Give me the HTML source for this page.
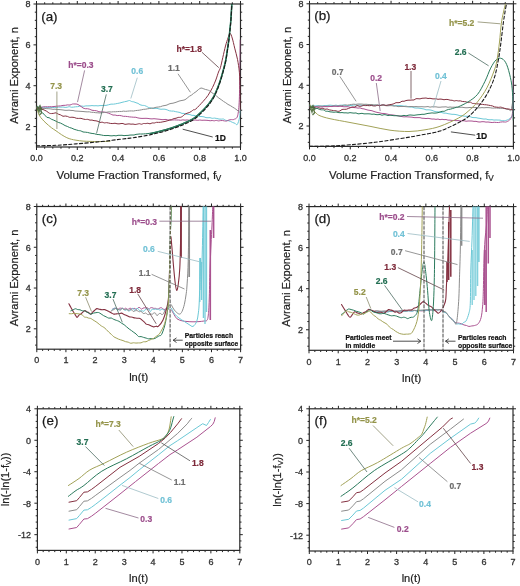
<!DOCTYPE html>
<html><head><meta charset="utf-8"><title>Avrami exponent figure</title>
<style>html,body{margin:0;padding:0;background:#fff;width:520px;height:586px;overflow:hidden}</style>
</head><body>
<svg width="520" height="586" viewBox="0 0 520 586" style="display:block;font-family:'Liberation Sans', Arial, Helvetica, sans-serif">
<rect width="520" height="586" fill="#fff"/>
<clipPath id="ca"><rect x="36.5" y="4" width="204" height="143"/></clipPath>
<path d="M36.5 147v3 M36.5 4v-3 M44.66 147v1.7 M44.66 4v-1.7 M52.82 147v1.7 M52.82 4v-1.7 M60.98 147v1.7 M60.98 4v-1.7 M69.14 147v1.7 M69.14 4v-1.7 M77.3 147v3 M77.3 4v-3 M85.46 147v1.7 M85.46 4v-1.7 M93.62 147v1.7 M93.62 4v-1.7 M101.78 147v1.7 M101.78 4v-1.7 M109.94 147v1.7 M109.94 4v-1.7 M118.1 147v3 M118.1 4v-3 M126.26 147v1.7 M126.26 4v-1.7 M134.42 147v1.7 M134.42 4v-1.7 M142.58 147v1.7 M142.58 4v-1.7 M150.74 147v1.7 M150.74 4v-1.7 M158.9 147v3 M158.9 4v-3 M167.06 147v1.7 M167.06 4v-1.7 M175.22 147v1.7 M175.22 4v-1.7 M183.38 147v1.7 M183.38 4v-1.7 M191.54 147v1.7 M191.54 4v-1.7 M199.7 147v3 M199.7 4v-3 M207.86 147v1.7 M207.86 4v-1.7 M216.02 147v1.7 M216.02 4v-1.7 M224.18 147v1.7 M224.18 4v-1.7 M232.34 147v1.7 M232.34 4v-1.7 M240.5 147v3 M240.5 4v-3 M36.5 142.91h-1.7 M240.5 142.91h1.7 M36.5 134.74h-1.7 M240.5 134.74h1.7 M36.5 126.57h-3 M240.5 126.57h3 M36.5 118.4h-1.7 M240.5 118.4h1.7 M36.5 110.23h-1.7 M240.5 110.23h1.7 M36.5 102.06h-1.7 M240.5 102.06h1.7 M36.5 93.89h-1.7 M240.5 93.89h1.7 M36.5 85.71h-3 M240.5 85.71h3 M36.5 77.54h-1.7 M240.5 77.54h1.7 M36.5 69.37h-1.7 M240.5 69.37h1.7 M36.5 61.2h-1.7 M240.5 61.2h1.7 M36.5 53.03h-1.7 M240.5 53.03h1.7 M36.5 44.86h-3 M240.5 44.86h3 M36.5 36.69h-1.7 M240.5 36.69h1.7 M36.5 28.51h-1.7 M240.5 28.51h1.7 M36.5 20.34h-1.7 M240.5 20.34h1.7 M36.5 12.17h-1.7 M240.5 12.17h1.7 M36.5 4h-3 M240.5 4h3" stroke="#222" stroke-width="1.0" fill="none"/>
<rect x="36.5" y="4" width="204" height="143" fill="none" stroke="#2a2a2a" stroke-width="1.2"/>
<text x="36.5" y="161.2" font-size="9" fill="#333" text-anchor="middle" stroke="#333" stroke-width="0.3">0.0</text>
<text x="77.3" y="161.2" font-size="9" fill="#333" text-anchor="middle" stroke="#333" stroke-width="0.3">0.2</text>
<text x="118.1" y="161.2" font-size="9" fill="#333" text-anchor="middle" stroke="#333" stroke-width="0.3">0.4</text>
<text x="158.9" y="161.2" font-size="9" fill="#333" text-anchor="middle" stroke="#333" stroke-width="0.3">0.6</text>
<text x="199.7" y="161.2" font-size="9" fill="#333" text-anchor="middle" stroke="#333" stroke-width="0.3">0.8</text>
<text x="240.5" y="161.2" font-size="9" fill="#333" text-anchor="middle" stroke="#333" stroke-width="0.3">1.0</text>
<text x="30.5" y="129.87" font-size="9" fill="#333" text-anchor="end" stroke="#333" stroke-width="0.3">2</text>
<text x="30.5" y="89.01" font-size="9" fill="#333" text-anchor="end" stroke="#333" stroke-width="0.3">4</text>
<text x="30.5" y="48.16" font-size="9" fill="#333" text-anchor="end" stroke="#333" stroke-width="0.3">6</text>
<text x="30.5" y="7.3" font-size="9" fill="#333" text-anchor="end" stroke="#333" stroke-width="0.3">8</text>
<clipPath id="cb"><rect x="309.5" y="3.8" width="203.9" height="142.6"/></clipPath>
<path d="M309.5 146.4v3 M309.5 3.8v-3 M317.66 146.4v1.7 M317.66 3.8v-1.7 M325.81 146.4v1.7 M325.81 3.8v-1.7 M333.97 146.4v1.7 M333.97 3.8v-1.7 M342.12 146.4v1.7 M342.12 3.8v-1.7 M350.28 146.4v3 M350.28 3.8v-3 M358.44 146.4v1.7 M358.44 3.8v-1.7 M366.59 146.4v1.7 M366.59 3.8v-1.7 M374.75 146.4v1.7 M374.75 3.8v-1.7 M382.9 146.4v1.7 M382.9 3.8v-1.7 M391.06 146.4v3 M391.06 3.8v-3 M399.22 146.4v1.7 M399.22 3.8v-1.7 M407.37 146.4v1.7 M407.37 3.8v-1.7 M415.53 146.4v1.7 M415.53 3.8v-1.7 M423.68 146.4v1.7 M423.68 3.8v-1.7 M431.84 146.4v3 M431.84 3.8v-3 M440 146.4v1.7 M440 3.8v-1.7 M448.15 146.4v1.7 M448.15 3.8v-1.7 M456.31 146.4v1.7 M456.31 3.8v-1.7 M464.46 146.4v1.7 M464.46 3.8v-1.7 M472.62 146.4v3 M472.62 3.8v-3 M480.78 146.4v1.7 M480.78 3.8v-1.7 M488.93 146.4v1.7 M488.93 3.8v-1.7 M497.09 146.4v1.7 M497.09 3.8v-1.7 M505.24 146.4v1.7 M505.24 3.8v-1.7 M513.4 146.4v3 M513.4 3.8v-3 M309.5 142.33h-1.7 M513.4 142.33h1.7 M309.5 134.18h-1.7 M513.4 134.18h1.7 M309.5 126.03h-3 M513.4 126.03h3 M309.5 117.88h-1.7 M513.4 117.88h1.7 M309.5 109.73h-1.7 M513.4 109.73h1.7 M309.5 101.58h-1.7 M513.4 101.58h1.7 M309.5 93.43h-1.7 M513.4 93.43h1.7 M309.5 85.29h-3 M513.4 85.29h3 M309.5 77.14h-1.7 M513.4 77.14h1.7 M309.5 68.99h-1.7 M513.4 68.99h1.7 M309.5 60.84h-1.7 M513.4 60.84h1.7 M309.5 52.69h-1.7 M513.4 52.69h1.7 M309.5 44.54h-3 M513.4 44.54h3 M309.5 36.39h-1.7 M513.4 36.39h1.7 M309.5 28.25h-1.7 M513.4 28.25h1.7 M309.5 20.1h-1.7 M513.4 20.1h1.7 M309.5 11.95h-1.7 M513.4 11.95h1.7 M309.5 3.8h-3 M513.4 3.8h3" stroke="#222" stroke-width="1.0" fill="none"/>
<rect x="309.5" y="3.8" width="203.9" height="142.6" fill="none" stroke="#2a2a2a" stroke-width="1.2"/>
<text x="309.5" y="161.2" font-size="9" fill="#333" text-anchor="middle" stroke="#333" stroke-width="0.3">0.0</text>
<text x="350.28" y="161.2" font-size="9" fill="#333" text-anchor="middle" stroke="#333" stroke-width="0.3">0.2</text>
<text x="391.06" y="161.2" font-size="9" fill="#333" text-anchor="middle" stroke="#333" stroke-width="0.3">0.4</text>
<text x="431.84" y="161.2" font-size="9" fill="#333" text-anchor="middle" stroke="#333" stroke-width="0.3">0.6</text>
<text x="472.62" y="161.2" font-size="9" fill="#333" text-anchor="middle" stroke="#333" stroke-width="0.3">0.8</text>
<text x="513.4" y="161.2" font-size="9" fill="#333" text-anchor="middle" stroke="#333" stroke-width="0.3">1.0</text>
<text x="303.5" y="129.33" font-size="9" fill="#333" text-anchor="end" stroke="#333" stroke-width="0.3">2</text>
<text x="303.5" y="88.59" font-size="9" fill="#333" text-anchor="end" stroke="#333" stroke-width="0.3">4</text>
<text x="303.5" y="47.84" font-size="9" fill="#333" text-anchor="end" stroke="#333" stroke-width="0.3">6</text>
<text x="303.5" y="7.1" font-size="9" fill="#333" text-anchor="end" stroke="#333" stroke-width="0.3">8</text>
<clipPath id="cc"><rect x="36.8" y="206.5" width="203.8" height="142.7"/></clipPath>
<path d="M36.8 349.2v3 M36.8 206.5v-3 M42.62 349.2v1.7 M42.62 206.5v-1.7 M48.45 349.2v1.7 M48.45 206.5v-1.7 M54.27 349.2v1.7 M54.27 206.5v-1.7 M60.09 349.2v1.7 M60.09 206.5v-1.7 M65.91 349.2v3 M65.91 206.5v-3 M71.74 349.2v1.7 M71.74 206.5v-1.7 M77.56 349.2v1.7 M77.56 206.5v-1.7 M83.38 349.2v1.7 M83.38 206.5v-1.7 M89.21 349.2v1.7 M89.21 206.5v-1.7 M95.03 349.2v3 M95.03 206.5v-3 M100.85 349.2v1.7 M100.85 206.5v-1.7 M106.67 349.2v1.7 M106.67 206.5v-1.7 M112.5 349.2v1.7 M112.5 206.5v-1.7 M118.32 349.2v1.7 M118.32 206.5v-1.7 M124.14 349.2v3 M124.14 206.5v-3 M129.97 349.2v1.7 M129.97 206.5v-1.7 M135.79 349.2v1.7 M135.79 206.5v-1.7 M141.61 349.2v1.7 M141.61 206.5v-1.7 M147.43 349.2v1.7 M147.43 206.5v-1.7 M153.26 349.2v3 M153.26 206.5v-3 M159.08 349.2v1.7 M159.08 206.5v-1.7 M164.9 349.2v1.7 M164.9 206.5v-1.7 M170.73 349.2v1.7 M170.73 206.5v-1.7 M176.55 349.2v1.7 M176.55 206.5v-1.7 M182.37 349.2v3 M182.37 206.5v-3 M188.19 349.2v1.7 M188.19 206.5v-1.7 M194.02 349.2v1.7 M194.02 206.5v-1.7 M199.84 349.2v1.7 M199.84 206.5v-1.7 M205.66 349.2v1.7 M205.66 206.5v-1.7 M211.49 349.2v3 M211.49 206.5v-3 M217.31 349.2v1.7 M217.31 206.5v-1.7 M223.13 349.2v1.7 M223.13 206.5v-1.7 M228.95 349.2v1.7 M228.95 206.5v-1.7 M234.78 349.2v1.7 M234.78 206.5v-1.7 M240.6 349.2v3 M240.6 206.5v-3 M36.8 345.12h-1.7 M240.6 345.12h1.7 M36.8 336.97h-1.7 M240.6 336.97h1.7 M36.8 328.81h-3 M240.6 328.81h3 M36.8 320.66h-1.7 M240.6 320.66h1.7 M36.8 312.51h-1.7 M240.6 312.51h1.7 M36.8 304.35h-1.7 M240.6 304.35h1.7 M36.8 296.2h-1.7 M240.6 296.2h1.7 M36.8 288.04h-3 M240.6 288.04h3 M36.8 279.89h-1.7 M240.6 279.89h1.7 M36.8 271.73h-1.7 M240.6 271.73h1.7 M36.8 263.58h-1.7 M240.6 263.58h1.7 M36.8 255.43h-1.7 M240.6 255.43h1.7 M36.8 247.27h-3 M240.6 247.27h3 M36.8 239.12h-1.7 M240.6 239.12h1.7 M36.8 230.96h-1.7 M240.6 230.96h1.7 M36.8 222.81h-1.7 M240.6 222.81h1.7 M36.8 214.65h-1.7 M240.6 214.65h1.7 M36.8 206.5h-3 M240.6 206.5h3" stroke="#222" stroke-width="1.0" fill="none"/>
<rect x="36.8" y="206.5" width="203.8" height="142.7" fill="none" stroke="#2a2a2a" stroke-width="1.2"/>
<text x="36.8" y="363.1" font-size="9" fill="#333" text-anchor="middle" stroke="#333" stroke-width="0.3">0</text>
<text x="65.91" y="363.1" font-size="9" fill="#333" text-anchor="middle" stroke="#333" stroke-width="0.3">1</text>
<text x="95.03" y="363.1" font-size="9" fill="#333" text-anchor="middle" stroke="#333" stroke-width="0.3">2</text>
<text x="124.14" y="363.1" font-size="9" fill="#333" text-anchor="middle" stroke="#333" stroke-width="0.3">3</text>
<text x="153.26" y="363.1" font-size="9" fill="#333" text-anchor="middle" stroke="#333" stroke-width="0.3">4</text>
<text x="182.37" y="363.1" font-size="9" fill="#333" text-anchor="middle" stroke="#333" stroke-width="0.3">5</text>
<text x="211.49" y="363.1" font-size="9" fill="#333" text-anchor="middle" stroke="#333" stroke-width="0.3">6</text>
<text x="240.6" y="363.1" font-size="9" fill="#333" text-anchor="middle" stroke="#333" stroke-width="0.3">7</text>
<text x="30.8" y="332.11" font-size="9" fill="#333" text-anchor="end" stroke="#333" stroke-width="0.3">2</text>
<text x="30.8" y="291.34" font-size="9" fill="#333" text-anchor="end" stroke="#333" stroke-width="0.3">4</text>
<text x="30.8" y="250.57" font-size="9" fill="#333" text-anchor="end" stroke="#333" stroke-width="0.3">6</text>
<text x="30.8" y="209.8" font-size="9" fill="#333" text-anchor="end" stroke="#333" stroke-width="0.3">8</text>
<clipPath id="cd"><rect x="309" y="206.6" width="204.5" height="143.7"/></clipPath>
<path d="M309 350.3v3 M309 206.6v-3 M314.84 350.3v1.7 M314.84 206.6v-1.7 M320.69 350.3v1.7 M320.69 206.6v-1.7 M326.53 350.3v1.7 M326.53 206.6v-1.7 M332.37 350.3v1.7 M332.37 206.6v-1.7 M338.21 350.3v3 M338.21 206.6v-3 M344.06 350.3v1.7 M344.06 206.6v-1.7 M349.9 350.3v1.7 M349.9 206.6v-1.7 M355.74 350.3v1.7 M355.74 206.6v-1.7 M361.59 350.3v1.7 M361.59 206.6v-1.7 M367.43 350.3v3 M367.43 206.6v-3 M373.27 350.3v1.7 M373.27 206.6v-1.7 M379.11 350.3v1.7 M379.11 206.6v-1.7 M384.96 350.3v1.7 M384.96 206.6v-1.7 M390.8 350.3v1.7 M390.8 206.6v-1.7 M396.64 350.3v3 M396.64 206.6v-3 M402.49 350.3v1.7 M402.49 206.6v-1.7 M408.33 350.3v1.7 M408.33 206.6v-1.7 M414.17 350.3v1.7 M414.17 206.6v-1.7 M420.01 350.3v1.7 M420.01 206.6v-1.7 M425.86 350.3v3 M425.86 206.6v-3 M431.7 350.3v1.7 M431.7 206.6v-1.7 M437.54 350.3v1.7 M437.54 206.6v-1.7 M443.39 350.3v1.7 M443.39 206.6v-1.7 M449.23 350.3v1.7 M449.23 206.6v-1.7 M455.07 350.3v3 M455.07 206.6v-3 M460.91 350.3v1.7 M460.91 206.6v-1.7 M466.76 350.3v1.7 M466.76 206.6v-1.7 M472.6 350.3v1.7 M472.6 206.6v-1.7 M478.44 350.3v1.7 M478.44 206.6v-1.7 M484.29 350.3v3 M484.29 206.6v-3 M490.13 350.3v1.7 M490.13 206.6v-1.7 M495.97 350.3v1.7 M495.97 206.6v-1.7 M501.81 350.3v1.7 M501.81 206.6v-1.7 M507.66 350.3v1.7 M507.66 206.6v-1.7 M513.5 350.3v3 M513.5 206.6v-3 M309 346.19h-1.7 M513.5 346.19h1.7 M309 337.98h-1.7 M513.5 337.98h1.7 M309 329.77h-3 M513.5 329.77h3 M309 321.56h-1.7 M513.5 321.56h1.7 M309 313.35h-1.7 M513.5 313.35h1.7 M309 305.14h-1.7 M513.5 305.14h1.7 M309 296.93h-1.7 M513.5 296.93h1.7 M309 288.71h-3 M513.5 288.71h3 M309 280.5h-1.7 M513.5 280.5h1.7 M309 272.29h-1.7 M513.5 272.29h1.7 M309 264.08h-1.7 M513.5 264.08h1.7 M309 255.87h-1.7 M513.5 255.87h1.7 M309 247.66h-3 M513.5 247.66h3 M309 239.45h-1.7 M513.5 239.45h1.7 M309 231.23h-1.7 M513.5 231.23h1.7 M309 223.02h-1.7 M513.5 223.02h1.7 M309 214.81h-1.7 M513.5 214.81h1.7 M309 206.6h-3 M513.5 206.6h3" stroke="#222" stroke-width="1.0" fill="none"/>
<rect x="309" y="206.6" width="204.5" height="143.7" fill="none" stroke="#2a2a2a" stroke-width="1.2"/>
<text x="309" y="364.6" font-size="9" fill="#333" text-anchor="middle" stroke="#333" stroke-width="0.3">0</text>
<text x="338.21" y="364.6" font-size="9" fill="#333" text-anchor="middle" stroke="#333" stroke-width="0.3">1</text>
<text x="367.43" y="364.6" font-size="9" fill="#333" text-anchor="middle" stroke="#333" stroke-width="0.3">2</text>
<text x="396.64" y="364.6" font-size="9" fill="#333" text-anchor="middle" stroke="#333" stroke-width="0.3">3</text>
<text x="425.86" y="364.6" font-size="9" fill="#333" text-anchor="middle" stroke="#333" stroke-width="0.3">4</text>
<text x="455.07" y="364.6" font-size="9" fill="#333" text-anchor="middle" stroke="#333" stroke-width="0.3">5</text>
<text x="484.29" y="364.6" font-size="9" fill="#333" text-anchor="middle" stroke="#333" stroke-width="0.3">6</text>
<text x="513.5" y="364.6" font-size="9" fill="#333" text-anchor="middle" stroke="#333" stroke-width="0.3">7</text>
<text x="303" y="333.07" font-size="9" fill="#333" text-anchor="end" stroke="#333" stroke-width="0.3">2</text>
<text x="303" y="292.01" font-size="9" fill="#333" text-anchor="end" stroke="#333" stroke-width="0.3">4</text>
<text x="303" y="250.96" font-size="9" fill="#333" text-anchor="end" stroke="#333" stroke-width="0.3">6</text>
<text x="303" y="209.9" font-size="9" fill="#333" text-anchor="end" stroke="#333" stroke-width="0.3">8</text>
<clipPath id="ce"><rect x="37.4" y="408.8" width="202.4" height="141.6"/></clipPath>
<path d="M37.4 550.4v3 M37.4 408.8v-3 M43.18 550.4v1.7 M43.18 408.8v-1.7 M48.97 550.4v1.7 M48.97 408.8v-1.7 M54.75 550.4v1.7 M54.75 408.8v-1.7 M60.53 550.4v1.7 M60.53 408.8v-1.7 M66.31 550.4v3 M66.31 408.8v-3 M72.1 550.4v1.7 M72.1 408.8v-1.7 M77.88 550.4v1.7 M77.88 408.8v-1.7 M83.66 550.4v1.7 M83.66 408.8v-1.7 M89.45 550.4v1.7 M89.45 408.8v-1.7 M95.23 550.4v3 M95.23 408.8v-3 M101.01 550.4v1.7 M101.01 408.8v-1.7 M106.79 550.4v1.7 M106.79 408.8v-1.7 M112.58 550.4v1.7 M112.58 408.8v-1.7 M118.36 550.4v1.7 M118.36 408.8v-1.7 M124.14 550.4v3 M124.14 408.8v-3 M129.93 550.4v1.7 M129.93 408.8v-1.7 M135.71 550.4v1.7 M135.71 408.8v-1.7 M141.49 550.4v1.7 M141.49 408.8v-1.7 M147.27 550.4v1.7 M147.27 408.8v-1.7 M153.06 550.4v3 M153.06 408.8v-3 M158.84 550.4v1.7 M158.84 408.8v-1.7 M164.62 550.4v1.7 M164.62 408.8v-1.7 M170.41 550.4v1.7 M170.41 408.8v-1.7 M176.19 550.4v1.7 M176.19 408.8v-1.7 M181.97 550.4v3 M181.97 408.8v-3 M187.75 550.4v1.7 M187.75 408.8v-1.7 M193.54 550.4v1.7 M193.54 408.8v-1.7 M199.32 550.4v1.7 M199.32 408.8v-1.7 M205.1 550.4v1.7 M205.1 408.8v-1.7 M210.89 550.4v3 M210.89 408.8v-3 M216.67 550.4v1.7 M216.67 408.8v-1.7 M222.45 550.4v1.7 M222.45 408.8v-1.7 M228.23 550.4v1.7 M228.23 408.8v-1.7 M234.02 550.4v1.7 M234.02 408.8v-1.7 M239.8 550.4v3 M239.8 408.8v-3 M37.4 547.25h-1.7 M239.8 547.25h1.7 M37.4 540.96h-1.7 M239.8 540.96h1.7 M37.4 534.67h-3 M239.8 534.67h3 M37.4 528.37h-1.7 M239.8 528.37h1.7 M37.4 522.08h-1.7 M239.8 522.08h1.7 M37.4 515.79h-1.7 M239.8 515.79h1.7 M37.4 509.49h-1.7 M239.8 509.49h1.7 M37.4 503.2h-3 M239.8 503.2h3 M37.4 496.91h-1.7 M239.8 496.91h1.7 M37.4 490.61h-1.7 M239.8 490.61h1.7 M37.4 484.32h-1.7 M239.8 484.32h1.7 M37.4 478.03h-1.7 M239.8 478.03h1.7 M37.4 471.73h-3 M239.8 471.73h3 M37.4 465.44h-1.7 M239.8 465.44h1.7 M37.4 459.15h-1.7 M239.8 459.15h1.7 M37.4 452.85h-1.7 M239.8 452.85h1.7 M37.4 446.56h-1.7 M239.8 446.56h1.7 M37.4 440.27h-3 M239.8 440.27h3 M37.4 433.97h-1.7 M239.8 433.97h1.7 M37.4 427.68h-1.7 M239.8 427.68h1.7 M37.4 421.39h-1.7 M239.8 421.39h1.7 M37.4 415.09h-1.7 M239.8 415.09h1.7 M37.4 408.8h-3 M239.8 408.8h3" stroke="#222" stroke-width="1.0" fill="none"/>
<rect x="37.4" y="408.8" width="202.4" height="141.6" fill="none" stroke="#2a2a2a" stroke-width="1.2"/>
<text x="37.4" y="565" font-size="9" fill="#333" text-anchor="middle" stroke="#333" stroke-width="0.3">0</text>
<text x="66.31" y="565" font-size="9" fill="#333" text-anchor="middle" stroke="#333" stroke-width="0.3">1</text>
<text x="95.23" y="565" font-size="9" fill="#333" text-anchor="middle" stroke="#333" stroke-width="0.3">2</text>
<text x="124.14" y="565" font-size="9" fill="#333" text-anchor="middle" stroke="#333" stroke-width="0.3">3</text>
<text x="153.06" y="565" font-size="9" fill="#333" text-anchor="middle" stroke="#333" stroke-width="0.3">4</text>
<text x="181.97" y="565" font-size="9" fill="#333" text-anchor="middle" stroke="#333" stroke-width="0.3">5</text>
<text x="210.89" y="565" font-size="9" fill="#333" text-anchor="middle" stroke="#333" stroke-width="0.3">6</text>
<text x="239.8" y="565" font-size="9" fill="#333" text-anchor="middle" stroke="#333" stroke-width="0.3">7</text>
<text x="31.1" y="537.97" font-size="9" fill="#333" text-anchor="end" stroke="#333" stroke-width="0.3">-12</text>
<text x="31.1" y="506.5" font-size="9" fill="#333" text-anchor="end" stroke="#333" stroke-width="0.3">-8</text>
<text x="31.1" y="475.03" font-size="9" fill="#333" text-anchor="end" stroke="#333" stroke-width="0.3">-4</text>
<text x="31.1" y="443.57" font-size="9" fill="#333" text-anchor="end" stroke="#333" stroke-width="0.3">0</text>
<text x="31.1" y="412.1" font-size="9" fill="#333" text-anchor="end" stroke="#333" stroke-width="0.3">4</text>
<clipPath id="cf"><rect x="309.3" y="408.8" width="203.7" height="142.2"/></clipPath>
<path d="M309.3 551v3 M309.3 408.8v-3 M315.12 551v1.7 M315.12 408.8v-1.7 M320.94 551v1.7 M320.94 408.8v-1.7 M326.76 551v1.7 M326.76 408.8v-1.7 M332.58 551v1.7 M332.58 408.8v-1.7 M338.4 551v3 M338.4 408.8v-3 M344.22 551v1.7 M344.22 408.8v-1.7 M350.04 551v1.7 M350.04 408.8v-1.7 M355.86 551v1.7 M355.86 408.8v-1.7 M361.68 551v1.7 M361.68 408.8v-1.7 M367.5 551v3 M367.5 408.8v-3 M373.32 551v1.7 M373.32 408.8v-1.7 M379.14 551v1.7 M379.14 408.8v-1.7 M384.96 551v1.7 M384.96 408.8v-1.7 M390.78 551v1.7 M390.78 408.8v-1.7 M396.6 551v3 M396.6 408.8v-3 M402.42 551v1.7 M402.42 408.8v-1.7 M408.24 551v1.7 M408.24 408.8v-1.7 M414.06 551v1.7 M414.06 408.8v-1.7 M419.88 551v1.7 M419.88 408.8v-1.7 M425.7 551v3 M425.7 408.8v-3 M431.52 551v1.7 M431.52 408.8v-1.7 M437.34 551v1.7 M437.34 408.8v-1.7 M443.16 551v1.7 M443.16 408.8v-1.7 M448.98 551v1.7 M448.98 408.8v-1.7 M454.8 551v3 M454.8 408.8v-3 M460.62 551v1.7 M460.62 408.8v-1.7 M466.44 551v1.7 M466.44 408.8v-1.7 M472.26 551v1.7 M472.26 408.8v-1.7 M478.08 551v1.7 M478.08 408.8v-1.7 M483.9 551v3 M483.9 408.8v-3 M489.72 551v1.7 M489.72 408.8v-1.7 M495.54 551v1.7 M495.54 408.8v-1.7 M501.36 551v1.7 M501.36 408.8v-1.7 M507.18 551v1.7 M507.18 408.8v-1.7 M513 551v3 M513 408.8v-3 M309.3 547.84h-1.7 M513 547.84h1.7 M309.3 541.52h-1.7 M513 541.52h1.7 M309.3 535.2h-3 M513 535.2h3 M309.3 528.88h-1.7 M513 528.88h1.7 M309.3 522.56h-1.7 M513 522.56h1.7 M309.3 516.24h-1.7 M513 516.24h1.7 M309.3 509.92h-1.7 M513 509.92h1.7 M309.3 503.6h-3 M513 503.6h3 M309.3 497.28h-1.7 M513 497.28h1.7 M309.3 490.96h-1.7 M513 490.96h1.7 M309.3 484.64h-1.7 M513 484.64h1.7 M309.3 478.32h-1.7 M513 478.32h1.7 M309.3 472h-3 M513 472h3 M309.3 465.68h-1.7 M513 465.68h1.7 M309.3 459.36h-1.7 M513 459.36h1.7 M309.3 453.04h-1.7 M513 453.04h1.7 M309.3 446.72h-1.7 M513 446.72h1.7 M309.3 440.4h-3 M513 440.4h3 M309.3 434.08h-1.7 M513 434.08h1.7 M309.3 427.76h-1.7 M513 427.76h1.7 M309.3 421.44h-1.7 M513 421.44h1.7 M309.3 415.12h-1.7 M513 415.12h1.7 M309.3 408.8h-3 M513 408.8h3" stroke="#222" stroke-width="1.0" fill="none"/>
<rect x="309.3" y="408.8" width="203.7" height="142.2" fill="none" stroke="#2a2a2a" stroke-width="1.2"/>
<text x="309.3" y="565.4" font-size="9" fill="#333" text-anchor="middle" stroke="#333" stroke-width="0.3">0</text>
<text x="338.4" y="565.4" font-size="9" fill="#333" text-anchor="middle" stroke="#333" stroke-width="0.3">1</text>
<text x="367.5" y="565.4" font-size="9" fill="#333" text-anchor="middle" stroke="#333" stroke-width="0.3">2</text>
<text x="396.6" y="565.4" font-size="9" fill="#333" text-anchor="middle" stroke="#333" stroke-width="0.3">3</text>
<text x="425.7" y="565.4" font-size="9" fill="#333" text-anchor="middle" stroke="#333" stroke-width="0.3">4</text>
<text x="454.8" y="565.4" font-size="9" fill="#333" text-anchor="middle" stroke="#333" stroke-width="0.3">5</text>
<text x="483.9" y="565.4" font-size="9" fill="#333" text-anchor="middle" stroke="#333" stroke-width="0.3">6</text>
<text x="513" y="565.4" font-size="9" fill="#333" text-anchor="middle" stroke="#333" stroke-width="0.3">7</text>
<text x="303.1" y="538.5" font-size="9" fill="#333" text-anchor="end" stroke="#333" stroke-width="0.3">-12</text>
<text x="303.1" y="506.9" font-size="9" fill="#333" text-anchor="end" stroke="#333" stroke-width="0.3">-8</text>
<text x="303.1" y="475.3" font-size="9" fill="#333" text-anchor="end" stroke="#333" stroke-width="0.3">-4</text>
<text x="303.1" y="443.7" font-size="9" fill="#333" text-anchor="end" stroke="#333" stroke-width="0.3">0</text>
<text x="303.1" y="412.1" font-size="9" fill="#333" text-anchor="end" stroke="#333" stroke-width="0.3">4</text>
<text x="56.5" y="178.9" font-size="11.45" fill="#222" text-anchor="start" stroke="#222" stroke-width="0.2">Volume Fraction Transformed, f<tspan font-size="8.2" dy="2.2" dx="-0.3">V</tspan></text>
<text x="328.9" y="178.8" font-size="11.45" fill="#222" text-anchor="start" stroke="#222" stroke-width="0.2">Volume Fraction Transformed, f<tspan font-size="8.2" dy="2.2" dx="-0.3">V</tspan></text>
<text transform="translate(17.7 75.5) rotate(-90)" font-size="11.1" fill="#222" stroke="#222" stroke-width="0.2" text-anchor="middle">Avrami Exponent, n</text>
<text transform="translate(290.5 75.2) rotate(-90)" font-size="11.1" fill="#222" stroke="#222" stroke-width="0.2" text-anchor="middle">Avrami Exponent, n</text>
<text transform="translate(17.9 277.9) rotate(-90)" font-size="11.1" fill="#222" stroke="#222" stroke-width="0.2" text-anchor="middle">Avrami Exponent, n</text>
<text transform="translate(290 278.5) rotate(-90)" font-size="11.1" fill="#222" stroke="#222" stroke-width="0.2" text-anchor="middle">Avrami Exponent, n</text>
<text transform="translate(9.2 479.4) rotate(-90)" font-size="11.1" fill="#222" stroke="#222" stroke-width="0.2" text-anchor="middle">ln(-ln(1-f<tspan font-size="7.5" dy="2.2">V</tspan><tspan dy="-2.2">))</tspan></text>
<text transform="translate(281.2 479.9) rotate(-90)" font-size="11.1" fill="#222" stroke="#222" stroke-width="0.2" text-anchor="middle">ln(-ln(1-f<tspan font-size="7.5" dy="2.2">V</tspan><tspan dy="-2.2">))</tspan></text>
<text x="138.7" y="380.6" font-size="11.1" fill="#222" text-anchor="middle" stroke="#222" stroke-width="0.2">ln(t)</text>
<text x="411.7" y="382" font-size="11.2" fill="#222" text-anchor="middle" stroke="#222" stroke-width="0.2">ln(t)</text>
<text x="138.6" y="582" font-size="11.1" fill="#222" text-anchor="middle" stroke="#222" stroke-width="0.2">ln(t)</text>
<text x="411.2" y="582.4" font-size="11.1" fill="#222" text-anchor="middle" stroke="#222" stroke-width="0.2">ln(t)</text>
<text x="41.2" y="20.6" font-size="13.4" fill="#1a1a1a" text-anchor="start" stroke="#1a1a1a" stroke-width="0.25">(a)</text>
<text x="314.2" y="20.4" font-size="13.4" fill="#1a1a1a" text-anchor="start" stroke="#1a1a1a" stroke-width="0.25">(b)</text>
<text x="41.7" y="222.6" font-size="13.4" fill="#1a1a1a" text-anchor="start" stroke="#1a1a1a" stroke-width="0.25">(c)</text>
<text x="314.4" y="222.8" font-size="13.4" fill="#1a1a1a" text-anchor="start" stroke="#1a1a1a" stroke-width="0.25">(d)</text>
<text x="42.1" y="425.2" font-size="13.4" fill="#1a1a1a" text-anchor="start" stroke="#1a1a1a" stroke-width="0.25">(e)</text>
<text x="314.5" y="425.4" font-size="13.4" fill="#1a1a1a" text-anchor="start" stroke="#1a1a1a" stroke-width="0.25">(f)</text>
<g clip-path="url(#ca)">
<path d="M36.8 106.97 C37.17 106.99 38.27 107.04 39 107.13 C39.73 107.21 40.47 107.45 41.2 107.46 C41.93 107.48 42.67 107.25 43.4 107.23 C44.13 107.21 44.87 107.3 45.6 107.34 C46.33 107.38 47.07 107.49 47.8 107.48 C48.53 107.47 49.27 107.28 50 107.28 C50.73 107.28 51.44 107.43 52.17 107.48 C52.89 107.52 53.61 107.5 54.33 107.52 C55.06 107.55 55.78 107.68 56.5 107.61 C57.22 107.53 57.94 107.15 58.67 107.08 C59.39 107.01 60.11 107.21 60.83 107.2 C61.56 107.18 62.29 106.98 63 107.01 C63.71 107.05 64.38 107.38 65.08 107.42 C65.77 107.45 66.46 107.36 67.15 107.24 C67.85 107.11 68.54 106.68 69.23 106.68 C69.92 106.68 70.62 107.16 71.31 107.24 C72 107.31 72.69 107.2 73.38 107.13 C74.08 107.05 74.77 106.88 75.46 106.81 C76.15 106.73 76.85 106.77 77.54 106.68 C78.23 106.59 78.92 106.36 79.62 106.26 C80.31 106.16 81 106.05 81.69 106.06 C82.38 106.07 83.08 106.35 83.77 106.32 C84.46 106.29 85.15 105.96 85.85 105.89 C86.54 105.82 87.23 105.9 87.92 105.88 C88.62 105.87 89.32 105.87 90 105.82 C90.68 105.77 91.33 105.59 92 105.58 C92.67 105.58 93.33 105.78 94 105.8 C94.67 105.82 95.33 105.68 96 105.7 C96.67 105.71 97.33 105.91 98 105.89 C98.67 105.87 99.33 105.63 100 105.58 C100.67 105.52 101.33 105.6 102 105.57 C102.67 105.54 103.33 105.41 104 105.39 C104.67 105.36 105.25 105.52 106 105.41 C106.75 105.31 107.67 104.98 108.5 104.77 C109.33 104.56 110.17 104.25 111 104.14 C111.83 104.04 112.73 104.2 113.5 104.15 C114.27 104.09 114.92 103.95 115.62 103.82 C116.33 103.7 117.04 103.53 117.75 103.39 C118.46 103.25 119.17 103.14 119.88 102.97 C120.58 102.8 121.23 102.58 122 102.37 C122.77 102.17 123.67 101.94 124.5 101.74 C125.33 101.55 126.17 101.43 127 101.22 C127.83 101.01 128.72 100.44 129.5 100.5 C130.28 100.55 130.94 101.33 131.67 101.55 C132.39 101.78 133.11 101.67 133.83 101.86 C134.56 102.06 135.31 102.49 136 102.74 C136.69 102.99 137.33 103.04 138 103.37 C138.67 103.7 139.3 104.39 140 104.72 C140.7 105.05 141.47 105.23 142.2 105.36 C142.93 105.49 143.67 105.32 144.4 105.49 C145.13 105.66 145.87 106.01 146.6 106.36 C147.33 106.7 148.07 107.3 148.8 107.57 C149.53 107.84 150.3 107.82 151 107.98 C151.7 108.14 152.33 108.49 153 108.55 C153.67 108.61 154.33 108.39 155 108.36 C155.67 108.32 156.33 108.25 157 108.34 C157.67 108.44 158.33 108.79 159 108.95 C159.67 109.1 160.33 109.24 161 109.27 C161.67 109.3 162.33 109.13 163 109.12 C163.67 109.12 164.31 109.09 165 109.21 C165.69 109.33 166.43 109.59 167.14 109.85 C167.86 110.11 168.57 110.56 169.29 110.77 C170 110.97 170.71 111.04 171.43 111.09 C172.14 111.15 172.86 111.02 173.57 111.12 C174.29 111.22 175 111.52 175.71 111.68 C176.43 111.83 177.14 111.91 177.86 112.05 C178.57 112.18 179.31 112.27 180 112.49 C180.69 112.72 181.33 113.26 182 113.41 C182.67 113.55 183.33 113.27 184 113.37 C184.67 113.48 185.33 113.88 186 114.04 C186.67 114.21 187.33 114.27 188 114.36 C188.67 114.45 189.33 114.42 190 114.58 C190.67 114.75 191.33 115.24 192 115.36 C192.67 115.49 193.33 115.22 194 115.34 C194.67 115.46 195.33 115.99 196 116.1 C196.67 116.21 197.33 115.93 198 115.99 C198.67 116.05 199.33 116.36 200 116.46 C200.67 116.56 201.33 116.5 202 116.57 C202.67 116.64 203.33 116.69 204 116.87 C204.67 117.04 205.33 117.47 206 117.62 C206.67 117.76 207.33 117.75 208 117.76 C208.67 117.76 209.29 117.57 210 117.66 C210.71 117.76 211.5 118.25 212.25 118.32 C213 118.39 213.75 118.07 214.5 118.1 C215.25 118.12 216 118.32 216.75 118.48 C217.5 118.63 218.25 118.94 219 119.05 C219.75 119.16 220.5 119.15 221.25 119.15 C222 119.14 222.74 118.81 223.5 119.02 C224.26 119.23 225.03 120.13 225.8 120.39 C226.57 120.66 227.33 120.43 228.1 120.6 C228.87 120.76 229.63 121.07 230.4 121.38 C231.17 121.7 231.93 122.17 232.7 122.49 C233.47 122.82 234.23 123 235 123.33 C235.77 123.66 236.55 125.4 237.3 124.46 C238.05 123.52 239 120.11 239.5 117.7 C240 115.29 240.17 111.28 240.3 110" fill="none" stroke="#6cc8d6" stroke-width="1.0" stroke-linejoin="round" stroke-linecap="round"/>
<path d="M36.8 107.48 C37.15 107.48 38.21 107.5 38.92 107.48 C39.62 107.46 40.33 107.46 41.03 107.37 C41.74 107.28 42.44 107.04 43.15 106.94 C43.86 106.83 44.56 106.76 45.27 106.74 C45.97 106.72 46.68 106.85 47.38 106.84 C48.09 106.83 48.77 106.67 49.5 106.66 C50.23 106.66 51 106.81 51.75 106.79 C52.5 106.76 53.25 106.6 54 106.51 C54.75 106.43 55.5 106.34 56.25 106.26 C57 106.18 57.75 106.1 58.5 106.03 C59.25 105.97 60 106 60.75 105.9 C61.5 105.79 62.24 105.49 63 105.39 C63.76 105.29 64.56 105.38 65.33 105.3 C66.11 105.21 66.89 104.91 67.67 104.86 C68.44 104.82 69.19 105.18 70 105.04 C70.81 104.91 71.67 104.21 72.5 104.04 C73.33 103.86 74.25 103.97 75 103.99 C75.75 104.01 76.33 103.96 77 104.14 C77.67 104.33 78.33 104.74 79 105.11 C79.67 105.49 80.33 105.93 81 106.4 C81.67 106.87 82.29 107.56 83 107.94 C83.71 108.33 84.5 108.58 85.25 108.71 C86 108.83 86.75 108.62 87.5 108.71 C88.25 108.8 89 108.98 89.75 109.24 C90.5 109.49 91.25 110.04 92 110.25 C92.75 110.46 93.5 110.42 94.25 110.51 C95 110.59 95.73 110.56 96.5 110.75 C97.27 110.95 98.08 111.46 98.88 111.67 C99.67 111.88 100.46 111.98 101.25 112.02 C102.04 112.06 102.83 111.82 103.62 111.89 C104.42 111.97 105.22 112.25 106 112.45 C106.78 112.66 107.56 112.85 108.33 113.11 C109.11 113.38 109.89 113.73 110.67 114.05 C111.44 114.38 112.26 114.91 113 115.07 C113.74 115.24 114.38 114.94 115.08 115.03 C115.77 115.11 116.46 115.51 117.15 115.58 C117.85 115.65 118.54 115.4 119.23 115.42 C119.92 115.45 120.62 115.57 121.31 115.73 C122 115.88 122.69 116.24 123.38 116.34 C124.08 116.44 124.77 116.29 125.46 116.32 C126.15 116.36 126.85 116.47 127.54 116.57 C128.23 116.66 128.92 116.82 129.62 116.9 C130.31 116.99 131 117.01 131.69 117.06 C132.38 117.12 133.08 117.21 133.77 117.24 C134.46 117.27 135.15 117.15 135.85 117.26 C136.54 117.37 137.23 117.73 137.92 117.91 C138.62 118.08 139.32 118.19 140 118.28 C140.68 118.37 141.33 118.41 142 118.42 C142.67 118.43 143.33 118.38 144 118.36 C144.67 118.35 145.33 118.3 146 118.31 C146.67 118.33 147.33 118.37 148 118.45 C148.67 118.53 149.33 118.71 150 118.78 C150.67 118.86 151.33 118.92 152 118.9 C152.67 118.89 153.33 118.7 154 118.7 C154.67 118.7 155.33 118.84 156 118.91 C156.67 118.98 157.33 119.05 158 119.12 C158.67 119.19 159.33 119.25 160 119.34 C160.67 119.43 161.33 119.61 162 119.65 C162.67 119.7 163.33 119.63 164 119.6 C164.67 119.57 165.33 119.37 166 119.45 C166.67 119.53 167.33 119.98 168 120.06 C168.67 120.14 169.31 119.96 170 119.96 C170.69 119.95 171.43 120.04 172.15 120.03 C172.87 120.01 173.58 119.87 174.3 119.87 C175.02 119.86 175.73 119.98 176.45 120.01 C177.17 120.03 177.88 119.96 178.6 120 C179.32 120.04 180.03 120.27 180.75 120.25 C181.47 120.22 182.18 119.88 182.9 119.86 C183.62 119.84 184.33 120.13 185.05 120.15 C185.77 120.16 186.48 119.92 187.2 119.94 C187.92 119.96 188.63 120.28 189.35 120.27 C190.07 120.26 190.78 119.93 191.5 119.89 C192.22 119.85 192.93 120.01 193.65 120.05 C194.37 120.09 195.1 120.06 195.8 120.11 C196.5 120.15 197.16 120.34 197.85 120.32 C198.53 120.31 199.21 120.02 199.89 120.01 C200.58 120.01 201.26 120.27 201.94 120.3 C202.62 120.32 203.3 120.19 203.99 120.19 C204.67 120.18 205.35 120.23 206.03 120.27 C206.72 120.31 207.4 120.34 208.08 120.43 C208.76 120.51 209.44 120.74 210.13 120.76 C210.81 120.77 211.49 120.5 212.17 120.51 C212.86 120.52 213.54 120.85 214.22 120.83 C214.9 120.82 215.58 120.39 216.27 120.4 C216.95 120.41 217.63 120.86 218.31 120.89 C219 120.93 219.68 120.66 220.36 120.6 C221.04 120.54 221.72 120.48 222.41 120.53 C223.09 120.59 223.77 120.82 224.45 120.91 C225.14 120.99 225.74 121.2 226.5 121.05 C227.26 120.89 228.17 120.21 229 119.97 C229.83 119.73 230.67 119.7 231.5 119.59 C232.33 119.49 232.98 119.98 234 119.36 C235.02 118.75 236.72 119.16 237.6 115.91 C238.48 112.65 238.93 107.54 239.3 99.84 C239.67 92.14 239.65 79.68 239.8 69.71 C239.95 59.73 240.13 44.95 240.2 40" fill="none" stroke="#aa5290" stroke-width="1.0" stroke-linejoin="round" stroke-linecap="round"/>
<path d="M36.8 107.88 C37.14 107.94 38.14 108.16 38.82 108.25 C39.49 108.33 40.16 108.33 40.83 108.4 C41.5 108.46 42.17 108.63 42.85 108.64 C43.52 108.65 44.19 108.46 44.86 108.46 C45.53 108.46 46.21 108.59 46.88 108.63 C47.55 108.68 48.22 108.7 48.89 108.75 C49.56 108.8 50.24 108.84 50.91 108.94 C51.58 109.04 52.25 109.3 52.92 109.35 C53.59 109.39 54.27 109.17 54.94 109.2 C55.61 109.23 56.28 109.5 56.95 109.55 C57.63 109.61 58.3 109.52 58.97 109.55 C59.64 109.58 60.31 109.67 60.98 109.74 C61.66 109.81 62.33 109.87 63 109.97 C63.67 110.06 64.33 110.25 65 110.31 C65.67 110.37 66.33 110.35 67 110.33 C67.67 110.3 68.33 110.15 69 110.17 C69.67 110.18 70.33 110.38 71 110.43 C71.67 110.49 72.33 110.41 73 110.51 C73.67 110.6 74.33 110.9 75 111 C75.67 111.1 76.33 111.07 77 111.11 C77.67 111.15 78.33 111.2 79 111.24 C79.67 111.29 80.33 111.35 81 111.39 C81.67 111.43 82.33 111.43 83 111.49 C83.67 111.54 84.31 111.66 85 111.72 C85.69 111.79 86.43 111.85 87.14 111.86 C87.86 111.87 88.57 111.73 89.29 111.81 C90 111.88 90.71 112.23 91.43 112.32 C92.14 112.41 92.86 112.29 93.57 112.35 C94.29 112.41 95 112.62 95.71 112.7 C96.43 112.78 97.14 112.77 97.86 112.82 C98.57 112.86 99.27 112.98 100 112.96 C100.73 112.94 101.5 112.78 102.25 112.7 C103 112.62 103.75 112.58 104.5 112.5 C105.25 112.42 106 112.31 106.75 112.21 C107.5 112.1 108.25 111.91 109 111.88 C109.75 111.84 110.5 112.01 111.25 111.99 C112 111.97 112.79 111.78 113.5 111.75 C114.21 111.71 114.84 111.81 115.51 111.78 C116.18 111.75 116.85 111.63 117.52 111.58 C118.19 111.52 118.86 111.46 119.53 111.45 C120.2 111.43 120.87 111.54 121.54 111.48 C122.21 111.43 122.88 111.14 123.55 111.12 C124.22 111.09 124.89 111.32 125.56 111.33 C126.23 111.33 126.9 111.21 127.57 111.15 C128.24 111.09 128.91 111 129.58 110.96 C130.25 110.92 130.92 110.9 131.59 110.91 C132.26 110.92 132.93 111.07 133.6 111.01 C134.27 110.96 134.95 110.68 135.62 110.58 C136.29 110.47 136.97 110.45 137.64 110.38 C138.31 110.31 138.99 110.26 139.66 110.15 C140.33 110.05 141.01 109.89 141.68 109.75 C142.35 109.61 143.03 109.41 143.7 109.32 C144.37 109.22 145.05 109.29 145.72 109.2 C146.39 109.1 147.07 108.89 147.74 108.77 C148.41 108.65 149.09 108.57 149.76 108.47 C150.43 108.36 151.11 108.24 151.78 108.15 C152.45 108.06 153.09 108.08 153.8 107.93 C154.51 107.79 155.29 107.42 156.04 107.27 C156.79 107.12 157.53 107.14 158.28 107.04 C159.03 106.94 159.77 106.86 160.52 106.67 C161.27 106.47 162.01 106.06 162.76 105.86 C163.51 105.67 164.29 105.65 165 105.51 C165.71 105.37 166.33 105.28 167 105.03 C167.67 104.77 168.33 104.25 169 103.99 C169.67 103.73 170.33 103.58 171 103.45 C171.67 103.32 172.33 103.33 173 103.19 C173.67 103.05 174.33 102.83 175 102.62 C175.67 102.41 176.33 102.18 177 101.93 C177.67 101.68 178.33 101.32 179 101.1 C179.67 100.88 180.33 100.77 181 100.64 C181.67 100.5 182.33 100.43 183 100.27 C183.67 100.12 184.31 100.05 185 99.69 C185.69 99.34 186.42 98.71 187.12 98.15 C187.83 97.59 188.54 96.85 189.25 96.35 C189.96 95.86 190.67 95.66 191.38 95.18 C192.08 94.69 192.73 94.02 193.5 93.44 C194.27 92.86 195.17 92.36 196 91.71 C196.83 91.06 197.67 90.13 198.5 89.52 C199.33 88.91 200.22 88.19 201 88.04 C201.78 87.88 202.43 88.37 203.15 88.6 C203.87 88.83 204.58 89.19 205.3 89.41 C206.02 89.63 206.73 89.66 207.45 89.91 C208.17 90.15 208.86 90.41 209.6 90.86 C210.34 91.31 211.14 92.03 211.92 92.62 C212.69 93.22 213.46 93.84 214.23 94.41 C215.01 94.99 215.78 95.47 216.55 96.08 C217.32 96.69 218.09 97.45 218.87 98.05 C219.64 98.64 220.41 99.08 221.18 99.64 C221.96 100.2 222.74 100.88 223.5 101.4 C224.26 101.92 225 102.24 225.75 102.75 C226.5 103.25 227.25 103.96 228 104.43 C228.75 104.89 229.5 105.12 230.25 105.56 C231 105.99 231.75 106.56 232.5 107.03 C233.25 107.5 234 107.86 234.75 108.37 C235.5 108.87 236.21 109.47 237 110.07 C237.79 110.68 239.08 111.68 239.5 112" fill="none" stroke="#8c8c8c" stroke-width="1.0" stroke-linejoin="round" stroke-linecap="round"/>
<path d="M36.8 107.65 C37.2 107.82 38.4 108.43 39.2 108.68 C40 108.93 40.8 108.93 41.6 109.14 C42.4 109.34 43.14 109.54 44 109.9 C44.86 110.26 45.83 110.73 46.75 111.29 C47.67 111.86 48.68 112.91 49.5 113.28 C50.32 113.66 50.94 113.54 51.67 113.54 C52.39 113.55 53.11 113.43 53.83 113.31 C54.56 113.19 55.25 112.68 56 112.82 C56.75 112.97 57.56 113.82 58.33 114.17 C59.11 114.51 59.89 114.56 60.67 114.91 C61.44 115.25 62.24 116.07 63 116.25 C63.76 116.43 64.49 115.96 65.23 115.99 C65.98 116.02 66.72 116.19 67.47 116.42 C68.21 116.65 68.96 117.23 69.7 117.36 C70.44 117.49 71.19 117.19 71.93 117.21 C72.68 117.22 73.42 117.27 74.17 117.45 C74.91 117.63 75.65 118.11 76.4 118.27 C77.15 118.44 77.91 118.44 78.67 118.45 C79.42 118.46 80.18 118.25 80.93 118.35 C81.69 118.45 82.44 118.86 83.2 119.05 C83.96 119.23 84.71 119.43 85.47 119.48 C86.22 119.53 86.98 119.26 87.73 119.37 C88.49 119.47 89.29 120.02 90 120.14 C90.71 120.25 91.33 119.97 92 120.06 C92.67 120.15 93.33 120.53 94 120.65 C94.67 120.78 95.33 120.71 96 120.82 C96.67 120.94 97.33 121.07 98 121.33 C98.67 121.6 99.31 122.3 100 122.43 C100.69 122.56 101.43 122.06 102.14 122.14 C102.86 122.22 103.57 122.82 104.29 122.9 C105 122.98 105.71 122.61 106.43 122.63 C107.14 122.65 107.86 122.87 108.57 123.01 C109.29 123.15 110 123.39 110.71 123.48 C111.43 123.57 112.14 123.58 112.86 123.54 C113.57 123.5 114.31 123.21 115 123.25 C115.69 123.29 116.33 123.65 117 123.76 C117.67 123.86 118.33 123.91 119 123.88 C119.67 123.84 120.33 123.6 121 123.55 C121.67 123.49 122.33 123.42 123 123.55 C123.67 123.68 124.33 124.24 125 124.33 C125.67 124.41 126.33 124.16 127 124.08 C127.67 124 128.33 123.85 129 123.87 C129.67 123.89 130.33 124.15 131 124.18 C131.67 124.21 132.31 124 133 124.05 C133.69 124.1 134.42 124.47 135.12 124.48 C135.83 124.49 136.54 124.26 137.25 124.13 C137.96 123.99 138.67 123.66 139.38 123.68 C140.08 123.7 140.79 124.27 141.5 124.24 C142.21 124.21 142.92 123.6 143.62 123.49 C144.33 123.38 145.04 123.62 145.75 123.58 C146.46 123.54 147.17 123.22 147.88 123.26 C148.58 123.3 149.29 123.87 150 123.82 C150.71 123.76 151.43 123.08 152.14 122.95 C152.86 122.82 153.57 123.13 154.29 123.02 C155 122.92 155.71 122.44 156.43 122.33 C157.14 122.23 157.86 122.39 158.57 122.38 C159.29 122.37 160 122.36 160.71 122.27 C161.43 122.17 162.14 121.97 162.86 121.83 C163.57 121.7 164.28 121.62 165 121.46 C165.72 121.3 166.47 121.06 167.2 120.84 C167.93 120.63 168.67 120.36 169.4 120.16 C170.13 119.96 170.87 119.92 171.6 119.66 C172.33 119.39 173.07 118.8 173.8 118.56 C174.53 118.33 175.27 118.46 176 118.26 C176.73 118.07 177.47 117.56 178.2 117.41 C178.93 117.25 179.67 117.52 180.4 117.33 C181.13 117.14 181.87 116.75 182.6 116.25 C183.33 115.75 184.07 114.82 184.8 114.32 C185.53 113.82 186.27 113.54 187 113.25 C187.73 112.96 188.47 112.93 189.2 112.61 C189.93 112.29 190.67 111.83 191.4 111.35 C192.13 110.87 192.87 110.1 193.6 109.71 C194.33 109.32 194.23 110.37 195.8 109 C197.37 107.63 200.97 103.77 203 101.5 C205.03 99.23 206.42 97.73 208 95.4 C209.58 93.07 211.2 90.07 212.5 87.5 C213.8 84.93 214.8 82.58 215.8 80 C216.8 77.42 217.73 74.05 218.5 72 C219.27 69.95 219.68 70.12 220.4 67.7 C221.12 65.28 221.95 61.12 222.8 57.5 C223.65 53.88 224.63 49.25 225.5 46 C226.37 42.75 227.25 40.12 228 38 C228.75 35.88 229.3 33.3 230 33.3 C230.7 33.3 231.42 35.53 232.2 38 C232.98 40.47 233.82 44.53 234.7 48.1 C235.58 51.67 236.72 55.33 237.5 59.4 C238.28 63.47 238.95 67.4 239.4 72.5 C239.85 77.6 240.03 83.75 240.2 90 C240.37 96.25 240.37 106.67 240.4 110" fill="none" stroke="#843040" stroke-width="1.0" stroke-linejoin="round" stroke-linecap="round"/>
<path d="M36.8 107.78 C37.19 108.06 38.37 108.73 39.15 109.46 C39.93 110.18 40.67 111.34 41.5 112.14 C42.33 112.95 43.27 113.44 44.15 114.29 C45.03 115.15 45.97 116.72 46.8 117.29 C47.62 117.86 48.33 117.39 49.1 117.71 C49.87 118.03 50.63 118.83 51.4 119.23 C52.17 119.63 52.93 119.78 53.7 120.11 C54.47 120.44 55.24 120.83 56 121.21 C56.76 121.6 57.51 122.11 58.27 122.42 C59.02 122.73 59.78 122.77 60.53 123.08 C61.29 123.38 62.04 123.83 62.8 124.25 C63.56 124.67 64.31 125.23 65.07 125.59 C65.82 125.96 66.58 126.12 67.33 126.45 C68.09 126.78 68.85 127.27 69.6 127.56 C70.35 127.85 71.09 127.92 71.83 128.2 C72.58 128.49 73.32 128.96 74.07 129.25 C74.81 129.53 75.56 129.71 76.3 129.92 C77.04 130.14 77.79 130.39 78.53 130.55 C79.28 130.7 80.02 130.63 80.77 130.87 C81.51 131.1 82.25 131.74 83 131.95 C83.75 132.17 84.51 132.08 85.27 132.16 C86.02 132.24 86.78 132.29 87.53 132.44 C88.29 132.58 89.04 132.85 89.8 133.02 C90.56 133.19 91.31 133.34 92.07 133.45 C92.82 133.56 93.58 133.53 94.33 133.7 C95.09 133.86 95.83 134.29 96.6 134.44 C97.37 134.59 98.17 134.5 98.95 134.59 C99.73 134.68 100.52 134.84 101.3 134.99 C102.08 135.14 102.87 135.38 103.65 135.48 C104.43 135.58 105.28 135.59 106 135.59 C106.72 135.58 107.33 135.43 108 135.46 C108.67 135.49 109.33 135.69 110 135.75 C110.67 135.82 111.33 135.88 112 135.85 C112.67 135.82 113.33 135.56 114 135.56 C114.67 135.56 115.33 135.89 116 135.85 C116.67 135.81 117.33 135.4 118 135.31 C118.67 135.22 119.33 135.32 120 135.32 C120.67 135.31 121.33 135.21 122 135.27 C122.67 135.33 123.33 135.63 124 135.66 C124.67 135.69 125.33 135.49 126 135.45 C126.67 135.4 127.33 135.46 128 135.4 C128.67 135.34 129.33 135.14 130 135.07 C130.67 135.01 131.33 135 132 135 C132.67 134.99 133.33 135.14 134 135.03 C134.67 134.93 135.33 134.5 136 134.36 C136.67 134.22 137.33 134.24 138 134.17 C138.67 134.1 139.33 133.96 140 133.93 C140.67 133.9 140.2 134.14 142 134 C143.8 133.86 146.77 133.88 150.8 133.1 C154.83 132.32 161.08 130.83 166.2 129.3 C171.32 127.77 176.95 125.75 181.5 123.9 C186.05 122.05 190.07 120.4 193.5 118.2 C196.93 116 199.53 113.2 202.1 110.7 C204.67 108.2 206.92 105.72 208.9 103.2 C210.88 100.68 212.52 98.3 214 95.6 C215.48 92.9 216.67 89.85 217.8 87 C218.93 84.15 219.85 81.5 220.8 78.5 C221.75 75.5 222.68 72.08 223.5 69 C224.32 65.92 225.03 63.42 225.7 60 C226.37 56.58 226.98 51.92 227.5 48.5 C228.02 45.08 228.35 43.17 228.8 39.5 C229.25 35.83 229.85 29.92 230.2 26.5 C230.55 23.08 230.62 23 230.9 19 C231.18 15 231.73 5.25 231.9 2.5" fill="none" stroke="#2a7a5c" stroke-width="1.0" stroke-linejoin="round" stroke-linecap="round"/>
<path d="M150.8 133.6 C153.37 132.97 161.08 131.33 166.2 129.8 C171.32 128.27 176.95 126.25 181.5 124.4 C186.05 122.55 190.07 120.9 193.5 118.7 C196.93 116.5 199.53 113.7 202.1 111.2 C204.67 108.7 206.92 106.22 208.9 103.7 C210.88 101.18 212.52 98.8 214 96.1 C215.48 93.4 216.67 90.35 217.8 87.5 C218.93 84.65 219.85 82 220.8 79 C221.75 76 222.68 72.58 223.5 69.5 C224.32 66.42 225.03 63.92 225.7 60.5 C226.37 57.08 226.98 52.42 227.5 49 C228.02 45.58 228.35 43.67 228.8 40 C229.25 36.33 229.85 30.42 230.2 27 C230.55 23.58 230.62 23.5 230.9 19.5 C231.18 15.5 231.73 5.75 231.9 3" fill="none" stroke="#2a7a5c" stroke-width="1.6" stroke-linejoin="round" stroke-linecap="round"/>
<path d="M36.8 108 C37.18 109.17 38.2 113.13 39.1 115 C40 116.87 41.05 117.85 42.2 119.2 C43.35 120.55 44.47 121.68 46 123.1 C47.53 124.52 49.73 126.42 51.4 127.7 C53.07 128.98 54.33 129.65 56 130.8 C57.67 131.95 59.6 133.45 61.4 134.6 C63.2 135.75 65.13 136.92 66.8 137.7 C68.47 138.48 69.87 138.88 71.4 139.3 C72.93 139.72 74.07 139.9 76 140.2 C77.93 140.5 80.67 140.9 83 141.1 C85.33 141.3 87.17 141.32 90 141.4 C92.83 141.48 96.67 141.62 100 141.6 C103.33 141.58 108.33 141.35 110 141.3" fill="none" stroke="#a2a258" stroke-width="1.0" stroke-linejoin="round" stroke-linecap="round"/>
<path d="M36.5 145.8 C39.75 145.72 49.42 145.62 56 145.3 C62.58 144.98 68.67 144.5 76 143.9 C83.33 143.3 92.67 142.47 100 141.7 C107.33 140.93 114.1 140.02 120 139.3 C125.9 138.58 130.27 138.18 135.4 137.4 C140.53 136.62 145.67 135.7 150.8 134.6 C155.93 133.5 161.08 132.33 166.2 130.8 C171.32 129.27 176.95 127.25 181.5 125.4 C186.05 123.55 190.07 121.9 193.5 119.7 C196.93 117.5 199.53 114.7 202.1 112.2 C204.67 109.7 206.92 107.22 208.9 104.7 C210.88 102.18 212.52 99.8 214 97.1 C215.48 94.4 216.67 91.35 217.8 88.5 C218.93 85.65 219.85 83 220.8 80 C221.75 77 222.68 73.58 223.5 70.5 C224.32 67.42 225.03 64.92 225.7 61.5 C226.37 58.08 226.98 53.42 227.5 50 C228.02 46.58 228.35 44.67 228.8 41 C229.25 37.33 229.85 31.42 230.2 28 C230.55 24.58 230.62 24.5 230.9 20.5 C231.18 16.5 231.73 6.75 231.9 4" fill="none" stroke="#1a1a1a" stroke-width="1.1" stroke-linejoin="round" stroke-linecap="round" stroke-dasharray="3.2 2.2"/>
<path d="M37 106 L39 112 L40.5 107 L41.5 113 L39.5 115 M37 110 L40 105.5 L42 110" fill="none" stroke="#4a6a3a" stroke-width="1.3" stroke-opacity="0.9"/>
</g>
<text x="68.2" y="67.6" font-size="8.5" fill="#9c4e8c" text-anchor="start" font-weight="bold" stroke="#9c4e8c" stroke-width="0.2">h*=0.3</text>
<line x1="84.6" y1="70.4" x2="77.5" y2="102.1" stroke="#8c6c88" stroke-width="0.8"/>
<text x="50.2" y="88.8" font-size="8.5" fill="#94944a" text-anchor="start" font-weight="bold" stroke="#94944a" stroke-width="0.2">7.3</text>
<line x1="56.9" y1="91.5" x2="56.9" y2="129" stroke="#8c8c6c" stroke-width="0.8"/>
<text x="101" y="92.2" font-size="8.5" fill="#226e52" text-anchor="start" font-weight="bold" stroke="#226e52" stroke-width="0.2">3.7</text>
<line x1="106.3" y1="94.4" x2="96.5" y2="133.5" stroke="#4c6c62" stroke-width="0.8"/>
<text x="131.3" y="74.1" font-size="8.5" fill="#72c2d6" text-anchor="start" font-weight="bold" stroke="#72c2d6" stroke-width="0.2">0.6</text>
<line x1="137.3" y1="77.7" x2="130.8" y2="98.5" stroke="#9cbcc4" stroke-width="0.8"/>
<text x="168" y="71.1" font-size="8.5" fill="#6e6e6e" text-anchor="start" font-weight="bold" stroke="#6e6e6e" stroke-width="0.2">1.1</text>
<line x1="178" y1="73.8" x2="190.4" y2="92.3" stroke="#7c7c7c" stroke-width="0.8"/>
<text x="176.6" y="52.2" font-size="8.5" fill="#7e2a3a" text-anchor="start" font-weight="bold" stroke="#7e2a3a" stroke-width="0.2">h*=1.8</text>
<line x1="202" y1="52.3" x2="218.8" y2="67.7" stroke="#624248" stroke-width="0.8"/>
<text x="215" y="140.8" font-size="8.5" fill="#111" text-anchor="start" font-weight="bold" stroke="#111" stroke-width="0.2">1D</text>
<line x1="182.7" y1="129.2" x2="212.7" y2="137" stroke="#222" stroke-width="0.8"/>
<g clip-path="url(#cb)">
<path d="M309.8 105.77 C310.14 105.82 311.15 106.04 311.82 106.08 C312.49 106.12 313.17 106.04 313.84 105.99 C314.51 105.95 315.19 105.9 315.86 105.84 C316.53 105.77 317.21 105.58 317.88 105.6 C318.55 105.62 319.23 105.9 319.9 105.95 C320.57 106.01 321.25 105.96 321.92 105.92 C322.59 105.87 323.27 105.71 323.94 105.66 C324.61 105.61 325.29 105.65 325.96 105.6 C326.63 105.55 327.31 105.44 327.98 105.37 C328.65 105.29 329.33 105.15 330 105.15 C330.67 105.16 331.33 105.33 332 105.39 C332.67 105.45 333.33 105.56 334 105.52 C334.67 105.48 335.33 105.12 336 105.14 C336.67 105.16 337.33 105.61 338 105.63 C338.67 105.64 339.33 105.28 340 105.21 C340.67 105.14 341.33 105.22 342 105.19 C342.67 105.16 343.33 104.96 344 105.04 C344.67 105.12 345.33 105.61 346 105.69 C346.67 105.76 347.33 105.51 348 105.49 C348.67 105.47 349.33 105.58 350 105.56 C350.67 105.54 351.33 105.47 352 105.36 C352.67 105.26 353.33 104.97 354 104.93 C354.67 104.89 355.33 105.07 356 105.12 C356.67 105.17 357.33 105.25 358 105.22 C358.67 105.19 359.33 104.88 360 104.93 C360.67 104.98 361.33 105.49 362 105.53 C362.67 105.56 363.33 105.22 364 105.13 C364.67 105.04 365.33 104.93 366 104.99 C366.67 105.04 367.33 105.46 368 105.46 C368.67 105.46 369.33 104.97 370 104.99 C370.67 105 371.33 105.52 372 105.56 C372.67 105.6 373.33 105.28 374 105.24 C374.67 105.2 375.33 105.33 376 105.32 C376.67 105.31 377.33 105.18 378 105.18 C378.67 105.18 379.33 105.3 380 105.29 C380.67 105.27 381.33 105.14 382 105.09 C382.67 105.04 383.33 104.91 384 105 C384.67 105.08 385.33 105.56 386 105.59 C386.67 105.61 387.33 105.16 388 105.15 C388.67 105.15 389.33 105.55 390 105.55 C390.67 105.55 391.33 105.13 392 105.16 C392.67 105.18 393.33 105.61 394 105.7 C394.67 105.78 395.33 105.68 396 105.66 C396.67 105.63 397.33 105.58 398 105.57 C398.67 105.56 399.33 105.55 400 105.58 C400.67 105.62 401.33 105.66 402 105.76 C402.67 105.85 403.33 106.11 404 106.16 C404.67 106.21 405.33 105.97 406 106.04 C406.67 106.11 407.33 106.4 408 106.58 C408.67 106.77 409.33 107.06 410 107.13 C410.67 107.2 411.33 106.88 412 106.99 C412.67 107.1 413.33 107.62 414 107.8 C414.67 107.98 415.33 108.03 416 108.07 C416.67 108.11 417.33 108 418 108.04 C418.67 108.08 419.33 108.2 420 108.31 C420.67 108.41 421.33 108.55 422 108.67 C422.67 108.78 423.33 108.82 424 109.01 C424.67 109.2 425.33 109.7 426 109.83 C426.67 109.96 427.33 109.78 428 109.79 C428.67 109.81 429.33 109.84 430 109.93 C430.67 110.03 431.33 110.16 432 110.37 C432.67 110.58 433.33 110.96 434 111.2 C434.67 111.43 435.33 111.68 436 111.78 C436.67 111.89 437.33 111.75 438 111.82 C438.67 111.9 439.33 112.08 440 112.21 C440.67 112.35 441.33 112.48 442 112.64 C442.67 112.8 443.33 113.1 444 113.17 C444.67 113.25 445.33 113.03 446 113.11 C446.67 113.2 447.33 113.55 448 113.69 C448.67 113.84 449.33 113.86 450 113.97 C450.67 114.07 451.33 114.26 452 114.32 C452.67 114.38 453.33 114.27 454 114.32 C454.67 114.37 455.33 114.5 456 114.62 C456.67 114.75 457.33 114.87 458 115.06 C458.67 115.25 459.33 115.67 460 115.77 C460.67 115.87 461.33 115.61 462 115.67 C462.67 115.74 463.33 116.06 464 116.16 C464.67 116.26 465.33 116.23 466 116.26 C466.67 116.3 467.33 116.33 468 116.39 C468.67 116.45 469.33 116.45 470 116.62 C470.67 116.79 471.33 117.24 472 117.41 C472.67 117.58 473.33 117.61 474 117.65 C474.67 117.69 475.33 117.55 476 117.63 C476.67 117.71 477.33 117.99 478 118.11 C478.67 118.23 479.33 118.26 480 118.37 C480.67 118.48 481.33 118.67 482 118.79 C482.67 118.91 483.33 119.06 484 119.09 C484.67 119.12 485.33 118.88 486 118.97 C486.67 119.06 487.33 119.51 488 119.64 C488.67 119.78 489.33 119.78 490 119.79 C490.67 119.8 491.33 119.65 492 119.7 C492.67 119.74 493.33 120.02 494 120.07 C494.67 120.11 495.33 119.96 496 119.96 C496.67 119.96 497.33 120.02 498 120.05 C498.67 120.07 499.19 120 500 120.12 C500.81 120.24 501.9 120.71 502.85 120.76 C503.8 120.82 504.76 120.69 505.7 120.46 C506.64 120.24 507.62 119.94 508.5 119.4 C509.38 118.86 510.25 118.41 511 117.21 C511.75 116.01 512.63 116.73 513 112.19 C513.37 107.66 513.17 93.7 513.2 90" fill="none" stroke="#6cc8d6" stroke-width="1.0" stroke-linejoin="round" stroke-linecap="round"/>
<path d="M309.8 106.77 C310.15 106.69 311.2 106.35 311.9 106.24 C312.6 106.14 313.3 106.06 314 106.13 C314.7 106.2 315.4 106.67 316.1 106.67 C316.8 106.68 317.5 106.25 318.2 106.14 C318.9 106.04 319.6 106.03 320.3 106.06 C321 106.1 321.7 106.33 322.4 106.34 C323.1 106.35 323.8 106.11 324.5 106.12 C325.2 106.13 325.9 106.43 326.6 106.4 C327.3 106.38 328 105.97 328.7 105.96 C329.4 105.96 330.1 106.36 330.8 106.36 C331.5 106.35 332.2 105.98 332.9 105.93 C333.6 105.88 334.3 106.04 335 106.06 C335.7 106.08 336.39 106.13 337.08 106.08 C337.78 106.02 338.47 105.81 339.17 105.74 C339.86 105.68 340.56 105.76 341.25 105.7 C341.94 105.65 342.64 105.54 343.33 105.39 C344.03 105.24 344.72 104.86 345.42 104.81 C346.11 104.77 346.81 105.14 347.5 105.13 C348.19 105.12 348.89 104.89 349.58 104.77 C350.28 104.65 350.97 104.52 351.67 104.42 C352.36 104.32 353.06 104.17 353.75 104.16 C354.44 104.16 355.14 104.4 355.83 104.38 C356.53 104.35 357.22 104.09 357.92 104.03 C358.61 103.98 359.32 104.05 360 104.06 C360.68 104.07 361.33 104.05 362 104.1 C362.67 104.15 363.33 104.32 364 104.35 C364.67 104.37 365.33 104.23 366 104.24 C366.67 104.26 367.33 104.41 368 104.46 C368.67 104.51 369.33 104.54 370 104.54 C370.67 104.54 371.33 104.39 372 104.47 C372.67 104.54 373.33 104.97 374 105.02 C374.67 105.07 375.33 104.74 376 104.77 C376.67 104.79 377.33 105.07 378 105.18 C378.67 105.29 379.33 105.39 380 105.42 C380.67 105.45 381.33 105.41 382 105.38 C382.67 105.34 383.33 105.14 384 105.21 C384.67 105.27 385.33 105.65 386 105.75 C386.67 105.85 387.33 105.81 388 105.79 C388.67 105.77 389.33 105.65 390 105.64 C390.67 105.62 391.33 105.61 392 105.69 C392.67 105.77 393.33 106.07 394 106.11 C394.67 106.16 395.33 105.87 396 105.95 C396.67 106.03 397.33 106.53 398 106.62 C398.67 106.71 399.33 106.52 400 106.5 C400.67 106.49 401.33 106.54 402 106.53 C402.67 106.53 403.33 106.47 404 106.49 C404.67 106.51 405.33 106.61 406 106.66 C406.67 106.72 407.33 106.87 408 106.84 C408.67 106.81 409.33 106.54 410 106.5 C410.67 106.45 411.33 106.53 412 106.56 C412.67 106.6 413.33 106.71 414 106.71 C414.67 106.71 415.33 106.55 416 106.56 C416.67 106.57 417.33 106.73 418 106.76 C418.67 106.79 419.33 106.76 420 106.75 C420.67 106.74 421.33 106.69 422 106.71 C422.67 106.73 423.33 106.86 424 106.88 C424.67 106.89 425.33 106.86 426 106.81 C426.67 106.76 427.33 106.52 428 106.57 C428.67 106.63 429.33 107.1 430 107.14 C430.67 107.17 431.33 106.83 432 106.78 C432.67 106.73 433.33 106.83 434 106.85 C434.67 106.86 435.33 106.79 436 106.85 C436.67 106.91 437.33 107.13 438 107.19 C438.67 107.25 439.33 107.26 440 107.23 C440.67 107.19 441.33 107.03 442 106.98 C442.67 106.94 443.33 106.97 444 106.94 C444.67 106.91 445.33 106.74 446 106.81 C446.67 106.88 447.33 107.32 448 107.35 C448.67 107.37 449.33 106.98 450 106.97 C450.67 106.95 451.33 107.21 452 107.25 C452.67 107.28 453.33 107.19 454 107.18 C454.67 107.18 455.33 107.21 456 107.22 C456.67 107.24 457.33 107.29 458 107.3 C458.67 107.3 459.33 107.26 460 107.25 C460.67 107.24 461.33 107.16 462 107.21 C462.67 107.27 463.33 107.47 464 107.57 C464.67 107.66 465.33 107.76 466 107.78 C466.67 107.8 467.33 107.75 468 107.69 C468.67 107.63 469.33 107.42 470 107.42 C470.67 107.43 471.33 107.73 472 107.72 C472.67 107.7 473.33 107.36 474 107.33 C474.67 107.3 475.33 107.47 476 107.55 C476.67 107.62 477.33 107.75 478 107.8 C478.67 107.85 479.33 107.89 480 107.85 C480.67 107.82 481.33 107.58 482 107.58 C482.67 107.57 483.33 107.8 484 107.81 C484.67 107.81 485.33 107.63 486 107.6 C486.67 107.57 487.31 107.59 488 107.61 C488.69 107.64 489.42 107.68 490.12 107.76 C490.83 107.85 491.54 108.07 492.25 108.12 C492.96 108.17 493.67 108.1 494.38 108.08 C495.08 108.07 495.79 108 496.5 108.03 C497.21 108.07 497.92 108.24 498.62 108.3 C499.33 108.35 500.04 108.36 500.75 108.36 C501.46 108.36 502.17 108.25 502.88 108.3 C503.58 108.35 504.31 108.52 505 108.67 C505.69 108.82 506.33 109.04 507 109.19 C507.67 109.34 508.33 109.39 509 109.57 C509.67 109.74 510.33 111.86 511 110.27 C511.67 108.67 512.67 101.71 513 100" fill="none" stroke="#8c8c8c" stroke-width="1.0" stroke-linejoin="round" stroke-linecap="round"/>
<path d="M309.8 107.25 C310.14 107.26 311.16 107.27 311.84 107.27 C312.52 107.27 313.2 107.32 313.88 107.24 C314.56 107.15 315.24 106.78 315.92 106.75 C316.6 106.72 317.28 107.02 317.96 107.06 C318.64 107.09 319.33 106.97 320 106.95 C320.67 106.94 321.33 107 322 106.95 C322.67 106.9 323.33 106.7 324 106.64 C324.67 106.58 325.33 106.6 326 106.61 C326.67 106.61 327.33 106.71 328 106.69 C328.67 106.67 329.33 106.5 330 106.48 C330.67 106.46 331.33 106.6 332 106.55 C332.67 106.51 333.33 106.29 334 106.22 C334.67 106.16 335.33 106.15 336 106.19 C336.67 106.24 337.33 106.49 338 106.5 C338.67 106.51 339.33 106.26 340 106.25 C340.67 106.25 341.33 106.39 342 106.48 C342.67 106.57 343.33 106.74 344 106.78 C344.67 106.82 345.33 106.74 346 106.73 C346.67 106.71 347.33 106.62 348 106.71 C348.67 106.81 349.33 107.21 350 107.32 C350.67 107.43 351.33 107.33 352 107.37 C352.67 107.42 353.33 107.52 354 107.58 C354.67 107.64 355.33 107.64 356 107.73 C356.67 107.82 357.33 108.08 358 108.11 C358.67 108.14 359.33 107.83 360 107.92 C360.67 108.01 361.33 108.49 362 108.66 C362.67 108.82 363.33 108.77 364 108.92 C364.67 109.07 365.33 109.35 366 109.54 C366.67 109.74 367.33 109.96 368 110.1 C368.67 110.24 369.33 110.28 370 110.39 C370.67 110.5 371.33 110.57 372 110.75 C372.67 110.93 373.33 111.25 374 111.48 C374.67 111.71 375.33 111.95 376 112.13 C376.67 112.31 377.33 112.41 378 112.55 C378.67 112.69 379.33 112.82 380 112.97 C380.67 113.11 381.33 113.34 382 113.43 C382.67 113.51 383.33 113.42 384 113.49 C384.67 113.56 385.33 113.7 386 113.83 C386.67 113.95 387.33 114.08 388 114.25 C388.67 114.43 389.33 114.79 390 114.89 C390.67 114.99 391.33 114.81 392 114.86 C392.67 114.9 393.33 115.04 394 115.15 C394.67 115.25 395.33 115.37 396 115.48 C396.67 115.58 397.33 115.65 398 115.78 C398.67 115.91 399.33 116.13 400 116.27 C400.67 116.4 401.33 116.49 402 116.59 C402.67 116.7 403.33 116.87 404 116.89 C404.67 116.92 405.33 116.74 406 116.75 C406.67 116.75 407.33 116.88 408 116.92 C408.67 116.97 409.33 116.98 410 117.02 C410.67 117.07 411.33 117.08 412 117.18 C412.67 117.28 413.33 117.54 414 117.62 C414.67 117.69 415.33 117.63 416 117.63 C416.67 117.63 417.33 117.6 418 117.61 C418.67 117.61 419.33 117.56 420 117.66 C420.67 117.77 421.33 118.11 422 118.22 C422.67 118.33 423.33 118.27 424 118.32 C424.67 118.38 425.33 118.54 426 118.55 C426.67 118.55 427.33 118.32 428 118.34 C428.67 118.36 429.33 118.56 430 118.68 C430.67 118.8 431.33 119 432 119.05 C432.67 119.11 433.33 118.95 434 119.01 C434.67 119.06 435.33 119.36 436 119.37 C436.67 119.37 437.33 119 438 119.05 C438.67 119.1 439.33 119.65 440 119.69 C440.67 119.72 441.33 119.29 442 119.28 C442.67 119.28 443.33 119.61 444 119.65 C444.67 119.69 445.33 119.45 446 119.53 C446.67 119.6 447.33 120.01 448 120.11 C448.67 120.22 449.33 120.1 450 120.15 C450.67 120.21 451.33 120.39 452 120.44 C452.67 120.49 453.33 120.42 454 120.45 C454.67 120.49 455.33 120.64 456 120.65 C456.67 120.66 457.33 120.48 458 120.52 C458.67 120.56 459.33 120.84 460 120.9 C460.67 120.96 461.33 120.9 462 120.87 C462.67 120.85 463.33 120.68 464 120.74 C464.67 120.8 465.33 121.19 466 121.23 C466.67 121.28 467.33 121.03 468 120.99 C468.67 120.95 469.33 120.99 470 120.99 C470.67 121 471.33 120.97 472 121.04 C472.67 121.1 473.33 121.33 474 121.38 C474.67 121.43 475.33 121.25 476 121.34 C476.67 121.42 477.33 121.78 478 121.89 C478.67 122.01 479.33 122.05 480 122.02 C480.67 121.98 481.33 121.74 482 121.69 C482.67 121.64 483.33 121.67 484 121.73 C484.67 121.8 485.33 122.06 486 122.1 C486.67 122.15 487.32 121.97 488 122 C488.68 122.03 489.38 122.21 490.07 122.3 C490.77 122.39 491.46 122.54 492.15 122.54 C492.84 122.53 493.53 122.29 494.23 122.28 C494.92 122.26 495.61 122.41 496.3 122.45 C496.99 122.5 497.67 122.62 498.36 122.56 C499.05 122.5 499.73 122.22 500.42 122.11 C501.11 121.99 501.79 121.88 502.48 121.87 C503.17 121.85 503.85 122.03 504.54 122.02 C505.23 122 505.62 122.28 506.6 121.79 C507.58 121.29 509.4 120.77 510.4 119.04 C511.4 117.31 512.13 117.92 512.6 111.41 C513.07 104.91 513.1 85.24 513.2 80" fill="none" stroke="#aa5290" stroke-width="1.0" stroke-linejoin="round" stroke-linecap="round"/>
<path d="M309.8 107.21 C310.16 107.28 311.25 107.62 311.97 107.63 C312.7 107.63 313.42 107.13 314.14 107.25 C314.87 107.38 315.59 108.26 316.31 108.36 C317.04 108.45 317.76 107.8 318.49 107.84 C319.21 107.88 319.93 108.52 320.66 108.6 C321.38 108.68 322.1 108.2 322.83 108.31 C323.55 108.42 324.28 109.14 325 109.26 C325.72 109.37 326.42 108.88 327.13 108.98 C327.84 109.09 328.56 109.67 329.27 109.87 C329.98 110.08 330.69 110.1 331.4 110.22 C332.11 110.35 332.82 110.54 333.53 110.6 C334.24 110.66 334.96 110.48 335.67 110.61 C336.38 110.74 337.09 111.31 337.8 111.37 C338.51 111.42 339.22 111.24 339.93 110.93 C340.64 110.62 341.36 109.77 342.07 109.5 C342.78 109.24 343.49 109.39 344.2 109.35 C344.91 109.31 345.62 109.38 346.33 109.24 C347.04 109.09 347.76 108.73 348.47 108.46 C349.18 108.19 349.89 107.87 350.6 107.61 C351.31 107.35 352.02 107.02 352.73 106.92 C353.44 106.82 354.16 107.23 354.87 107.01 C355.58 106.79 356.3 105.72 357 105.59 C357.7 105.45 358.38 106.1 359.06 106.2 C359.75 106.31 360.44 106.35 361.13 106.23 C361.82 106.11 362.5 105.59 363.19 105.49 C363.88 105.38 364.57 105.59 365.26 105.6 C365.95 105.6 366.63 105.5 367.32 105.52 C368.01 105.54 368.7 105.71 369.39 105.7 C370.07 105.69 370.76 105.43 371.45 105.47 C372.14 105.51 372.83 105.86 373.51 105.94 C374.2 106.01 374.89 106.03 375.58 105.91 C376.27 105.8 376.95 105.27 377.64 105.24 C378.33 105.22 379.02 105.83 379.71 105.77 C380.4 105.71 381.08 105.04 381.77 104.88 C382.46 104.73 383.15 104.77 383.84 104.85 C384.52 104.93 385.22 105.33 385.9 105.37 C386.58 105.4 387.24 105.17 387.91 105.04 C388.59 104.92 389.26 104.73 389.93 104.6 C390.6 104.48 391.27 104.47 391.94 104.32 C392.61 104.17 393.29 104 393.96 103.73 C394.63 103.46 395.3 102.85 395.97 102.68 C396.64 102.51 397.31 102.74 397.99 102.7 C398.66 102.66 399.33 102.67 400 102.42 C400.67 102.18 401.33 101.42 402 101.23 C402.67 101.04 403.33 101.38 404 101.27 C404.67 101.16 405.33 100.74 406 100.56 C406.67 100.38 407.33 100.26 408 100.19 C408.67 100.12 409.33 100.19 410 100.16 C410.67 100.13 411.33 100.03 412 99.99 C412.67 99.95 413.33 100.14 414 99.93 C414.67 99.72 415.33 98.92 416 98.72 C416.67 98.52 417.33 98.71 418 98.73 C418.67 98.76 419.33 98.94 420 98.86 C420.67 98.78 421.33 98.38 422 98.27 C422.67 98.15 423.33 98.2 424 98.16 C424.67 98.11 425.33 97.94 426 98 C426.67 98.06 427.33 98.47 428 98.51 C428.67 98.56 429.33 98.23 430 98.27 C430.67 98.31 431.33 98.67 432 98.78 C432.67 98.89 433.33 98.91 434 98.91 C434.67 98.91 435.33 98.72 436 98.78 C436.67 98.85 437.33 99.27 438 99.31 C438.67 99.36 439.33 99.06 440 99.05 C440.67 99.04 441.33 99.13 442 99.24 C442.67 99.36 443.33 99.71 444 99.73 C444.67 99.76 445.36 99.42 446.04 99.39 C446.72 99.36 447.39 99.43 448.07 99.56 C448.75 99.69 449.43 100.06 450.11 100.18 C450.79 100.3 451.47 100.15 452.15 100.28 C452.82 100.41 453.5 100.91 454.18 100.96 C454.86 101 455.54 100.57 456.22 100.57 C456.9 100.56 457.58 100.88 458.25 100.93 C458.93 100.97 459.61 100.76 460.29 100.85 C460.97 100.94 461.65 101.36 462.33 101.48 C463.01 101.6 463.68 101.5 464.36 101.58 C465.04 101.65 465.73 101.78 466.4 101.95 C467.07 102.11 467.74 102.54 468.41 102.57 C469.08 102.61 469.75 102.02 470.42 102.16 C471.09 102.3 471.76 103.2 472.43 103.42 C473.1 103.63 473.77 103.37 474.44 103.45 C475.11 103.52 475.78 103.78 476.45 103.86 C477.12 103.93 477.78 103.83 478.45 103.89 C479.12 103.96 479.79 104.16 480.46 104.24 C481.13 104.32 481.8 104.31 482.47 104.38 C483.14 104.46 483.81 104.61 484.48 104.68 C485.15 104.75 485.82 104.72 486.49 104.81 C487.16 104.9 487.83 105.08 488.5 105.2 C489.17 105.33 489.85 105.43 490.52 105.56 C491.2 105.69 491.88 105.75 492.55 105.97 C493.23 106.19 493.9 106.71 494.57 106.91 C495.25 107.11 495.92 107.09 496.6 107.17 C497.27 107.24 497.95 107.38 498.62 107.37 C499.3 107.37 499.97 107.06 500.65 107.12 C501.32 107.18 502 107.52 502.67 107.73 C503.35 107.94 504.02 108.18 504.7 108.38 C505.38 108.57 506.05 108.79 506.72 108.89 C507.4 108.99 508.07 108.87 508.75 108.99 C509.42 109.1 510.1 109.43 510.77 109.57 C511.45 109.7 512.46 109.76 512.8 109.8" fill="none" stroke="#843040" stroke-width="1.0" stroke-linejoin="round" stroke-linecap="round"/>
<path d="M309.8 105.9 C310.23 106.14 311.53 106.95 312.4 107.34 C313.27 107.74 314.21 108.11 315 108.27 C315.79 108.44 316.43 108.15 317.14 108.34 C317.86 108.54 318.57 109.19 319.29 109.44 C320 109.69 320.71 109.74 321.43 109.82 C322.14 109.9 322.86 109.69 323.57 109.92 C324.29 110.15 325 111 325.71 111.22 C326.43 111.44 327.14 111.13 327.86 111.23 C328.57 111.34 329.31 111.71 330 111.84 C330.69 111.98 331.33 111.96 332 112.03 C332.67 112.1 333.33 112.26 334 112.25 C334.67 112.24 335.33 111.93 336 111.97 C336.67 112.01 337.33 112.38 338 112.51 C338.67 112.63 339.33 112.71 340 112.72 C340.67 112.72 341.33 112.52 342 112.55 C342.67 112.57 343.33 112.82 344 112.87 C344.67 112.91 345.33 112.79 346 112.82 C346.67 112.85 347.33 113.1 348 113.07 C348.67 113.04 349.33 112.67 350 112.64 C350.67 112.62 351.33 112.83 352 112.91 C352.67 112.99 353.33 113.12 354 113.13 C354.67 113.14 355.33 112.85 356 112.96 C356.67 113.07 357.33 113.67 358 113.79 C358.67 113.9 359.33 113.72 360 113.64 C360.67 113.57 361.33 113.3 362 113.34 C362.67 113.37 363.33 113.77 364 113.85 C364.67 113.94 365.33 113.86 366 113.84 C366.67 113.83 367.33 113.78 368 113.79 C368.67 113.8 369.33 113.82 370 113.9 C370.67 113.97 371.33 114.23 372 114.26 C372.67 114.29 373.33 114.02 374 114.08 C374.67 114.13 375.33 114.5 376 114.6 C376.67 114.7 377.33 114.7 378 114.69 C378.67 114.67 379.33 114.41 380 114.5 C380.67 114.59 381.33 115.19 382 115.22 C382.67 115.25 383.33 114.73 384 114.67 C384.67 114.62 385.33 114.75 386 114.9 C386.67 115.04 387.33 115.49 388 115.53 C388.67 115.58 389.33 115.19 390 115.18 C390.67 115.16 391.33 115.37 392 115.46 C392.67 115.54 393.33 115.65 394 115.69 C394.67 115.73 395.33 115.68 396 115.71 C396.67 115.74 397.33 115.83 398 115.88 C398.67 115.92 399.33 116.01 400 116 C400.67 116 401.33 115.95 402 115.85 C402.67 115.74 403.33 115.37 404 115.37 C404.67 115.37 405.33 115.86 406 115.84 C406.67 115.83 407.33 115.43 408 115.28 C408.67 115.13 409.33 114.99 410 114.96 C410.67 114.93 411.33 115.05 412 115.11 C412.67 115.17 413.33 115.31 414 115.3 C414.67 115.28 415.33 115.11 416 115.01 C416.67 114.92 417.33 114.8 418 114.74 C418.67 114.67 419.33 114.7 420 114.62 C420.67 114.54 421.33 114.32 422 114.28 C422.67 114.23 423.33 114.41 424 114.34 C424.67 114.27 425.33 114.03 426 113.87 C426.67 113.71 427.33 113.5 428 113.38 C428.67 113.27 429.33 113.26 430 113.18 C430.67 113.1 431.33 112.91 432 112.9 C432.67 112.89 433.33 113.09 434 113.11 C434.67 113.13 435.33 113.09 436 113.02 C436.67 112.94 437.33 112.83 438 112.66 C438.67 112.49 439.32 112.2 440 111.98 C440.68 111.75 441.39 111.41 442.09 111.3 C442.79 111.19 443.48 111.49 444.18 111.32 C444.87 111.14 445.57 110.54 446.27 110.23 C446.96 109.92 447.66 109.63 448.36 109.44 C449.05 109.26 449.75 109.29 450.44 109.15 C451.14 109 451.84 108.77 452.53 108.56 C453.23 108.35 453.93 108.11 454.62 107.88 C455.32 107.65 456.01 107.4 456.71 107.18 C457.41 106.97 456.9 107.48 458.8 106.6 C460.7 105.72 464.98 103.93 468.1 101.9 C471.22 99.87 474.68 97.83 477.5 94.4 C480.32 90.97 482.8 85.68 485 81.3 C487.2 76.92 488.82 71.7 490.7 68.1 C492.58 64.5 494.43 61.28 496.3 59.7 C498.17 58.12 500.18 57.82 501.9 58.6 C503.62 59.38 505.18 61.25 506.6 64.4 C508.02 67.55 509.47 73.43 510.4 77.5 C511.33 81.57 511.77 84.22 512.2 88.8 C512.63 93.38 512.83 99.8 513 105 C513.17 110.2 513.17 117.5 513.2 120" fill="none" stroke="#2a7a5c" stroke-width="1.0" stroke-linejoin="round" stroke-linecap="round"/>
<path d="M309.8 104.5 C310.17 105.17 310.97 107.08 312 108.5 C313.03 109.92 314.67 111.78 316 113 C317.33 114.22 317.67 114.85 320 115.8 C322.33 116.75 325 117.58 330 118.7 C335 119.82 343.33 121.23 350 122.5 C356.67 123.77 363.33 125.02 370 126.3 C376.67 127.58 383.5 129.33 390 130.2 C396.5 131.07 403.17 131.57 409 131.5 C414.83 131.43 419.83 130.67 425 129.8 C430.17 128.93 434.37 128.28 440 126.3 C445.63 124.32 454.12 120.4 458.8 117.9 C463.48 115.4 464.98 113.97 468.1 111.3 C471.22 108.63 474.37 105.82 477.5 101.9 C480.63 97.98 484.08 93.12 486.9 87.8 C489.72 82.48 492.68 74.83 494.4 70 C496.12 65.17 496.35 63.47 497.2 58.8 C498.05 54.13 498.82 47.83 499.5 42 C500.18 36.17 500.63 28.8 501.3 23.8 C501.97 18.8 502.8 15.33 503.5 12 C504.2 8.67 505.17 5.17 505.5 3.8" fill="none" stroke="#a2a258" stroke-width="1.0" stroke-linejoin="round" stroke-linecap="round"/>
<path d="M309.5 146.4 C312.92 146.33 323.25 146.27 330 146 C336.75 145.73 342.5 145.42 350 144.8 C357.5 144.18 366.67 143.33 375 142.3 C383.33 141.27 392.5 139.78 400 138.6 C407.5 137.42 413.33 136.47 420 135.2 C426.67 133.93 433.53 133.12 440 131 C446.47 128.88 454.12 124.85 458.8 122.5 C463.48 120.15 464.98 119.4 468.1 116.9 C471.22 114.4 474.37 111.25 477.5 107.5 C480.63 103.75 484.08 99.4 486.9 94.4 C489.72 89.4 492.45 83.48 494.4 77.5 C496.35 71.52 497.5 64.42 498.6 58.5 C499.7 52.58 500.23 47.78 501 42 C501.77 36.22 502.53 28.8 503.2 23.8 C503.87 18.8 504.45 15.33 505 12 C505.55 8.67 506.25 5.17 506.5 3.8" fill="none" stroke="#1a1a1a" stroke-width="1.1" stroke-linejoin="round" stroke-linecap="round" stroke-dasharray="3.2 2.2"/>
<path d="M310 106 L312 112 L313.5 107 L314.5 113 L312.5 115 M310 110 L313 105.5 L315 110" fill="none" stroke="#4a6a3a" stroke-width="1.3" stroke-opacity="0.9"/>
</g>
<text x="331.7" y="74.5" font-size="8.5" fill="#6e6e6e" text-anchor="start" font-weight="bold" stroke="#6e6e6e" stroke-width="0.2">0.7</text>
<line x1="339.8" y1="76.3" x2="356.1" y2="101.3" stroke="#7c7c7c" stroke-width="0.8"/>
<text x="370.2" y="80.7" font-size="8.5" fill="#9c4e8c" text-anchor="start" font-weight="bold" stroke="#9c4e8c" stroke-width="0.2">0.2</text>
<line x1="376.3" y1="83" x2="380.2" y2="111" stroke="#8c6c88" stroke-width="0.8"/>
<text x="404.4" y="70.1" font-size="8.5" fill="#7e2a3a" text-anchor="start" font-weight="bold" stroke="#7e2a3a" stroke-width="0.2">1.3</text>
<line x1="411" y1="71" x2="411" y2="98.7" stroke="#624248" stroke-width="0.8"/>
<text x="435" y="79" font-size="8.5" fill="#72c2d6" text-anchor="start" font-weight="bold" stroke="#72c2d6" stroke-width="0.2">0.4</text>
<line x1="441" y1="81" x2="433.2" y2="107.6" stroke="#9cbcc4" stroke-width="0.8"/>
<text x="449" y="25.9" font-size="8.5" fill="#94944a" text-anchor="start" font-weight="bold" stroke="#94944a" stroke-width="0.2">h*=5.2</text>
<line x1="477.6" y1="21.9" x2="500.4" y2="23.8" stroke="#8c8c6c" stroke-width="0.8"/>
<text x="454.7" y="55.1" font-size="8.5" fill="#226e52" text-anchor="start" font-weight="bold" stroke="#226e52" stroke-width="0.2">2.6</text>
<line x1="468.4" y1="53" x2="488.6" y2="65.8" stroke="#4c6c62" stroke-width="0.8"/>
<text x="476.3" y="139.3" font-size="8.5" fill="#111" text-anchor="start" font-weight="bold" stroke="#111" stroke-width="0.2">1D</text>
<line x1="450.9" y1="131.9" x2="475.2" y2="135.2" stroke="#222" stroke-width="0.8"/>
<g clip-path="url(#cc)">
<path d="M113 308.62 C113.33 308.57 114.42 308.27 115 308.3 C115.58 308.33 116 308.62 116.5 308.79 C117 308.95 117.5 309.37 118 309.29 C118.5 309.21 119 308.47 119.5 308.29 C120 308.11 120.5 308.2 121 308.22 C121.5 308.24 122 308.23 122.5 308.42 C123 308.6 123.5 309.38 124 309.34 C124.5 309.31 125 308.24 125.5 308.23 C126 308.21 126.5 309.13 127 309.27 C127.5 309.42 128 309.3 128.5 309.11 C129 308.92 129.48 308.2 130 308.15 C130.52 308.09 131.08 308.73 131.62 308.8 C132.17 308.87 132.71 308.64 133.25 308.58 C133.79 308.52 134.33 308.31 134.88 308.46 C135.42 308.6 135.96 309.56 136.5 309.44 C137.04 309.33 137.58 308.07 138.12 307.76 C138.67 307.44 139.21 307.33 139.75 307.56 C140.29 307.79 140.83 309.06 141.38 309.15 C141.92 309.25 142.47 308.36 143 308.13 C143.53 307.89 144.03 307.77 144.55 307.75 C145.06 307.72 145.58 307.93 146.09 307.98 C146.61 308.02 147.12 307.85 147.64 308.03 C148.15 308.21 148.67 309.13 149.18 309.08 C149.7 309.03 150.21 307.96 150.73 307.73 C151.24 307.51 151.76 307.63 152.27 307.74 C152.79 307.85 153.3 308.29 153.82 308.39 C154.33 308.49 154.85 308.2 155.36 308.31 C155.88 308.42 156.39 308.95 156.91 309.03 C157.42 309.12 157.94 309 158.45 308.82 C158.97 308.64 159.48 308.11 160 307.94 C160.52 307.77 161.07 307.6 161.6 307.79 C162.13 307.97 162.67 308.77 163.2 309.05 C163.73 309.32 164.27 309.64 164.8 309.44 C165.33 309.24 165.87 307.94 166.4 307.83 C166.93 307.73 167.23 308.52 168 308.8 C168.77 309.08 170 308.55 171 309.5 C172 310.45 173 312.95 174 314.5 C175 316.05 175.67 317.75 177 318.8 C178.33 319.85 180.33 320.35 182 320.8 C183.67 321.25 185.17 321.33 187 321.5 C188.83 321.67 191 321.78 193 321.8 C195 321.82 197.17 321.73 199 321.6 C200.83 321.47 202.67 321.22 204 321 C205.33 320.78 206.28 321.3 207 320.3 C207.72 319.3 207.93 318.38 208.3 315 C208.67 311.62 208.92 307.5 209.2 300 C209.48 292.5 209.7 279.17 210 270 C210.3 260.83 210.67 252.5 211 245 C211.33 237.5 211.7 231.5 212 225 C212.3 218.5 212.67 209.17 212.8 206" fill="none" stroke="#aa5290" stroke-width="1.0" stroke-linejoin="round" stroke-linecap="round"/>
<path d="M213.6 206 V238 M210.3 230 V320" stroke="#aa5290" stroke-width="1.6"/>
<path d="M112 309.82 C112.42 309.55 113.83 308.42 114.5 308.2 C115.17 307.98 115.53 308.17 116.05 308.51 C116.57 308.85 117.08 310.13 117.6 310.24 C118.12 310.35 118.63 309.23 119.15 309.17 C119.67 309.11 120.18 310.02 120.7 309.86 C121.22 309.69 121.73 308.26 122.25 308.18 C122.77 308.1 123.28 309.02 123.8 309.38 C124.32 309.75 124.83 310.35 125.35 310.38 C125.87 310.41 126.38 309.48 126.9 309.54 C127.42 309.61 127.93 310.6 128.45 310.79 C128.97 310.97 129.48 310.92 130 310.67 C130.52 310.42 131.04 309.68 131.56 309.28 C132.07 308.89 132.59 308.1 133.11 308.29 C133.63 308.49 134.15 310.37 134.67 310.45 C135.19 310.52 135.7 309.06 136.22 308.73 C136.74 308.4 137.26 308.15 137.78 308.45 C138.3 308.75 138.81 310.11 139.33 310.51 C139.85 310.92 140.37 310.81 140.89 310.87 C141.41 310.94 141.93 310.83 142.44 310.9 C142.96 310.96 143.47 311.55 144 311.27 C144.53 310.99 145.07 309.61 145.6 309.22 C146.13 308.84 146.67 308.97 147.2 308.95 C147.73 308.93 148.27 308.68 148.8 309.12 C149.33 309.56 149.87 311.56 150.4 311.58 C150.93 311.59 151.47 309.58 152 309.21 C152.53 308.85 153.07 309.43 153.6 309.41 C154.13 309.38 154.67 309.11 155.2 309.08 C155.73 309.04 156.27 309.19 156.8 309.22 C157.33 309.25 157.87 309.09 158.4 309.25 C158.93 309.41 159.47 310.17 160 310.19 C160.53 310.2 161.07 309.46 161.6 309.34 C162.13 309.21 162.67 309.18 163.2 309.43 C163.73 309.68 164.27 311.01 164.8 310.84 C165.33 310.67 165.87 308.7 166.4 308.39 C166.93 308.08 167.23 309.06 168 309 C168.77 308.94 169.9 307.17 171 308 C172.1 308.83 173.27 312.33 174.6 314 C175.93 315.67 177.37 316.75 179 318 C180.63 319.25 182.73 320.42 184.4 321.5 C186.07 322.58 187.57 323.68 189 324.5 C190.43 325.32 191.72 326.9 193 326.4 C194.28 325.9 195.83 323.57 196.7 321.5 C197.57 319.43 197.8 316.75 198.2 314 C198.6 311.25 198.83 309.83 199.1 305 C199.37 300.17 199.57 292.83 199.8 285 C200.03 277.17 200.27 257.17 200.5 258 C200.73 258.83 200.95 289.33 201.2 290 C201.45 290.67 201.73 272 202 262 C202.27 252 202.58 239.33 202.8 230 C203.02 220.67 203.22 210 203.3 206" fill="none" stroke="#6cc8d6" stroke-width="1.0" stroke-linejoin="round" stroke-linecap="round"/>
<path d="M203.4 206 V318 M205 206 V324 M206.5 206 V312 M199.8 258 V302 M201.6 262 V300" stroke="#6cc8d6" stroke-width="1.3" stroke-opacity="0.9"/>
<path d="M111 311.18 C111.29 311 112.17 310.4 112.75 310.09 C113.33 309.78 113.95 309.67 114.5 309.32 C115.05 308.98 115.53 308.06 116.05 308.02 C116.57 307.98 117.08 308.8 117.6 309.09 C118.12 309.39 118.63 309.67 119.15 309.82 C119.67 309.96 120.18 310.23 120.7 309.96 C121.22 309.69 121.73 308.26 122.25 308.18 C122.77 308.11 123.28 309.27 123.8 309.49 C124.32 309.71 124.83 309.54 125.35 309.5 C125.87 309.47 126.38 309.12 126.9 309.31 C127.42 309.49 127.93 310.57 128.45 310.61 C128.97 310.66 129.48 309.72 130 309.57 C130.52 309.43 131.04 309.44 131.56 309.75 C132.07 310.06 132.59 311.22 133.11 311.43 C133.63 311.64 134.15 311.17 134.67 311.02 C135.19 310.87 135.7 310.55 136.22 310.54 C136.74 310.53 137.26 310.73 137.78 310.95 C138.3 311.16 138.81 311.8 139.33 311.82 C139.85 311.84 140.37 310.88 140.89 311.06 C141.41 311.24 141.93 312.47 142.44 312.89 C142.96 313.32 143.47 313.6 144 313.61 C144.53 313.63 145.08 312.88 145.62 312.99 C146.16 313.09 146.7 313.98 147.24 314.26 C147.79 314.53 148.33 314.71 148.87 314.65 C149.41 314.58 149.95 313.9 150.49 313.86 C151.03 313.81 151.57 314.49 152.11 314.36 C152.65 314.23 153.19 313.28 153.73 313.07 C154.27 312.86 154.81 312.66 155.36 313.09 C155.9 313.52 156.44 315.51 156.98 315.67 C157.52 315.83 158.06 314.43 158.6 314.04 C159.14 313.65 159.69 313.23 160.23 313.32 C160.78 313.41 161.32 314.51 161.87 314.56 C162.41 314.62 162.98 314.37 163.5 313.65 C164.02 312.93 164.5 310.96 165 310.27 C165.5 309.58 165.83 310.31 166.5 309.5 C167.17 308.69 168.27 306.27 169 305.4 C169.73 304.53 170.23 303.87 170.9 304.3 C171.57 304.73 172.18 306.77 173 308 C173.82 309.23 174.72 310.68 175.8 311.7 C176.88 312.72 178.47 314.13 179.5 314.1 C180.53 314.07 181.18 313.13 182 311.5 C182.82 309.87 183.73 307.05 184.4 304.3 C185.07 301.55 185.58 297.88 186 295 C186.42 292.12 186.57 291.6 186.9 287 C187.23 282.4 187.72 275.23 188 267.4 C188.28 259.57 188.43 250.23 188.6 240 C188.77 229.77 188.93 211.67 189 206" fill="none" stroke="#8c8c8c" stroke-width="1.0" stroke-linejoin="round" stroke-linecap="round"/>
<path d="M189.2 206 V277" stroke="#8c8c8c" stroke-width="1.7"/>
<path d="M68.9 303.83 C69.24 304.44 70.27 306.23 70.95 307.49 C71.63 308.74 72.33 310.19 73 311.34 C73.67 312.5 74.33 313.39 75 314.4 C75.67 315.41 76.33 317.26 77 317.38 C77.67 317.5 78.33 315.69 79 315.11 C79.67 314.54 80.07 314.68 81 313.95 C81.93 313.22 83.66 311.09 84.6 310.72 C85.54 310.36 85.98 311.42 86.67 311.74 C87.36 312.06 88.04 312.25 88.73 312.66 C89.42 313.07 90.12 314.33 90.8 314.21 C91.48 314.09 92.16 312.63 92.83 311.95 C93.51 311.28 94.19 310.73 94.87 310.17 C95.54 309.62 96.13 308.76 96.9 308.61 C97.67 308.46 98.61 309.09 99.47 309.28 C100.32 309.47 101.18 309.7 102.03 309.75 C102.89 309.8 103.79 309.46 104.6 309.59 C105.41 309.71 106.13 310.17 106.9 310.51 C107.67 310.86 108.43 311.26 109.2 311.66 C109.97 312.05 110.73 312.49 111.5 312.9 C112.27 313.32 112.99 313.98 113.8 314.14 C114.61 314.29 115.51 313.91 116.37 313.83 C117.22 313.76 118.08 313.82 118.93 313.7 C119.79 313.58 120.64 312.96 121.5 313.09 C122.36 313.22 123.21 314.08 124.07 314.47 C124.92 314.86 125.78 315.07 126.63 315.46 C127.49 315.85 128.41 316.56 129.2 316.81 C129.99 317.07 130.64 316.87 131.36 317.01 C132.08 317.14 132.8 317.47 133.52 317.64 C134.24 317.8 134.96 317.9 135.68 318.01 C136.4 318.11 137.12 318.21 137.84 318.27 C138.56 318.34 139.3 318.07 140 318.39 C140.7 318.71 141.38 319.63 142.07 320.19 C142.76 320.76 143.44 321.13 144.13 321.78 C144.82 322.44 145.43 323.61 146.2 324.12 C146.97 324.62 147.89 324.51 148.73 324.81 C149.58 325.11 150.42 325.57 151.27 325.92 C152.11 326.26 152.99 326.87 153.8 326.91 C154.61 326.96 155.37 326.3 156.15 326.18 C156.93 326.06 157.36 327.23 158.5 326.2 C159.64 325.17 161.72 322.7 163 320 C164.28 317.3 165.28 313.72 166.2 310 C167.12 306.28 167.93 304.7 168.5 297.7 C169.07 290.7 169.25 278.03 169.6 268 C169.95 257.97 170.23 241.17 170.6 237.5 C170.97 233.83 171.32 241.25 171.8 246 C172.28 250.75 172.93 259.83 173.5 266 C174.07 272.17 174.67 278.92 175.2 283 C175.73 287.08 176.18 290.33 176.7 290.5 C177.22 290.67 177.78 287.75 178.3 284 C178.82 280.25 179.42 275.33 179.8 268 C180.18 260.67 180.38 250.33 180.6 240 C180.82 229.67 181.02 211.67 181.1 206" fill="none" stroke="#843040" stroke-width="1.1" stroke-linejoin="round" stroke-linecap="round"/>
<path d="M181 206 V258" stroke="#843040" stroke-width="1.8"/>
<path d="M70.8 310.84 C71.18 310.68 72.33 310.23 73.1 309.88 C73.87 309.52 74.63 308.77 75.4 308.72 C76.17 308.67 76.93 309.4 77.7 309.58 C78.47 309.76 79.23 309.6 80 309.81 C80.77 310.01 81.53 310.64 82.3 310.82 C83.07 310.99 83.87 310.66 84.6 310.86 C85.33 311.06 85.98 311.66 86.67 312.02 C87.36 312.38 88.04 312.67 88.73 313.03 C89.42 313.39 90.03 314.18 90.8 314.19 C91.57 314.2 92.51 313.35 93.37 313.1 C94.22 312.85 95.08 312.78 95.93 312.68 C96.79 312.58 97.64 312.29 98.5 312.5 C99.36 312.71 100.21 313.42 101.07 313.94 C101.92 314.47 102.78 315.17 103.63 315.66 C104.49 316.15 105.35 316.46 106.2 316.88 C107.05 317.29 107.89 317.95 108.73 318.14 C109.58 318.33 110.42 317.82 111.27 318.03 C112.11 318.24 112.95 319.01 113.8 319.4 C114.65 319.79 115.51 320.04 116.37 320.35 C117.22 320.67 118.08 320.84 118.93 321.31 C119.79 321.77 120.64 322.6 121.5 323.16 C122.36 323.72 123.21 324.04 124.07 324.66 C124.92 325.29 125.78 326.16 126.63 326.89 C127.49 327.62 128.38 328.42 129.2 329.04 C130.02 329.67 130.75 330.08 131.52 330.64 C132.3 331.2 133.07 331.83 133.85 332.4 C134.62 332.97 135.4 333.38 136.18 334.07 C136.95 334.75 137.68 336.09 138.5 336.51 C139.32 336.93 140.21 336.44 141.07 336.59 C141.92 336.74 142.78 337.17 143.63 337.43 C144.49 337.68 145.35 337.88 146.2 338.12 C147.05 338.36 147.89 338.8 148.73 338.87 C149.58 338.94 150.42 338.55 151.27 338.54 C152.11 338.53 152.95 338.94 153.8 338.79 C154.65 338.64 155.51 338.11 156.37 337.63 C157.22 337.14 158.08 336.4 158.93 335.9 C159.79 335.39 160.56 336.25 161.5 334.6 C162.44 332.95 163.68 329.43 164.6 326 C165.52 322.57 166.35 318.33 167 314 C167.65 309.67 168.07 307.33 168.5 300 C168.93 292.67 169.3 280.5 169.6 270 C169.9 259.5 170.07 245.33 170.3 237 C170.53 228.67 170.82 225.17 171 220 C171.18 214.83 171.33 208.33 171.4 206" fill="none" stroke="#2a7a5c" stroke-width="1.0" stroke-linejoin="round" stroke-linecap="round"/>
<path d="M69.2 313.68 C69.58 313.69 70.73 313.8 71.5 313.74 C72.27 313.68 73.07 313.35 73.8 313.32 C74.53 313.29 75.18 313.49 75.87 313.56 C76.56 313.63 77.24 313.65 77.93 313.74 C78.62 313.82 79.27 313.84 80 314.06 C80.73 314.28 81.53 314.55 82.3 315.05 C83.07 315.55 83.87 316.71 84.6 317.09 C85.33 317.47 85.98 317.14 86.67 317.32 C87.36 317.5 88.04 317.97 88.73 318.16 C89.42 318.35 90.12 318.18 90.8 318.45 C91.48 318.73 92.16 319.37 92.83 319.81 C93.51 320.24 94.19 320.64 94.87 321.06 C95.54 321.49 96.17 321.82 96.9 322.35 C97.63 322.89 98.45 323.63 99.23 324.25 C100 324.88 100.78 325.57 101.55 326.09 C102.33 326.61 103.1 326.81 103.88 327.37 C104.65 327.92 105.39 328.63 106.2 329.41 C107.01 330.2 107.89 331.25 108.73 332.07 C109.58 332.89 110.42 333.55 111.27 334.32 C112.11 335.1 112.99 336.13 113.8 336.74 C114.61 337.34 115.33 337.56 116.1 337.95 C116.87 338.34 117.63 338.77 118.4 339.09 C119.17 339.41 119.93 339.62 120.7 339.87 C121.47 340.12 122.18 340.28 123 340.58 C123.82 340.88 124.73 341.42 125.6 341.68 C126.47 341.94 127.33 341.88 128.2 342.14 C129.07 342.41 129.94 343.17 130.8 343.27 C131.66 343.37 132.51 342.8 133.37 342.77 C134.22 342.73 135.08 343.04 135.93 343.07 C136.79 343.09 137.66 342.96 138.5 342.92 C139.34 342.88 140.17 343.03 141 342.84 C141.83 342.64 142.67 341.93 143.5 341.75 C144.33 341.57 145.15 341.98 146 341.77 C146.85 341.55 147.73 340.83 148.6 340.44 C149.47 340.05 150.33 339.77 151.2 339.41 C152.07 339.05 153.02 338.75 153.8 338.3 C154.58 337.84 155.18 337.19 155.87 336.66 C156.56 336.14 157.24 335.74 157.93 335.13 C158.62 334.52 158.89 334.89 160 333 C161.11 331.11 163.43 327.13 164.6 323.8 C165.77 320.47 166.35 316.58 167 313 C167.65 309.42 168.1 307.8 168.5 302.3 C168.9 296.8 169.13 288.72 169.4 280 C169.67 271.28 169.9 259.17 170.1 250 C170.3 240.83 170.43 232.33 170.6 225 C170.77 217.67 171.02 209.17 171.1 206" fill="none" stroke="#a2a258" stroke-width="1.0" stroke-linejoin="round" stroke-linecap="round"/>
</g>
<line x1="170.1" y1="206.5" x2="170.1" y2="349.2" stroke="#444" stroke-width="1.0"/>
<path d="M170.1 206.5 V349.2" stroke="#fff" stroke-width="1.4" stroke-dasharray="0 3.3 1.6 0"/>
<text x="131.7" y="224.6" font-size="8.5" fill="#9c4e8c" text-anchor="start" font-weight="bold" stroke="#9c4e8c" stroke-width="0.2">h*=0.3</text>
<line x1="159.4" y1="221.2" x2="211.3" y2="221.2" stroke="#8c6c88" stroke-width="0.8"/>
<text x="143" y="252.3" font-size="8.5" fill="#72c2d6" text-anchor="start" font-weight="bold" stroke="#72c2d6" stroke-width="0.2">0.6</text>
<line x1="157.7" y1="251.3" x2="199.2" y2="261.7" stroke="#9cbcc4" stroke-width="0.8"/>
<text x="138.7" y="275.6" font-size="8.5" fill="#6e6e6e" text-anchor="start" font-weight="bold" stroke="#6e6e6e" stroke-width="0.2">1.1</text>
<line x1="151.6" y1="274.3" x2="184.5" y2="289" stroke="#7c7c7c" stroke-width="0.8"/>
<text x="129.2" y="293" font-size="8.5" fill="#7e2a3a" text-anchor="start" font-weight="bold" stroke="#7e2a3a" stroke-width="0.2">1.8</text>
<line x1="137.7" y1="293.8" x2="156.2" y2="323.8" stroke="#624248" stroke-width="0.8"/>
<text x="77.2" y="295.6" font-size="8.5" fill="#94944a" text-anchor="start" font-weight="bold" stroke="#94944a" stroke-width="0.2">7.3</text>
<line x1="85.6" y1="297.2" x2="91.5" y2="311.5" stroke="#8c8c6c" stroke-width="0.8"/>
<text x="104.6" y="298" font-size="8.5" fill="#226e52" text-anchor="start" font-weight="bold" stroke="#226e52" stroke-width="0.2">3.7</text>
<line x1="113" y1="299.2" x2="122.3" y2="322.3" stroke="#4c6c62" stroke-width="0.8"/>
<text x="184.7" y="338" font-size="6.8" fill="#111" text-anchor="start" font-weight="bold" stroke="#111" stroke-width="0.2">Particles reach</text>
<text x="184.7" y="346" font-size="6.7" fill="#111" text-anchor="start" font-weight="bold" stroke="#111" stroke-width="0.2">opposite surface</text>
<path d="M173.2 340.2 h9.5 M173.2 340.2 l3.3 -2.3 M173.2 340.2 l3.3 2.3" stroke="#222" stroke-width="0.8" fill="none"/>
<g clip-path="url(#cd)">
<path d="M374 311.4 C374.33 311.38 375.33 311.29 376 311.25 C376.67 311.2 377.33 311.08 378 311.16 C378.67 311.23 379.33 311.67 380 311.72 C380.67 311.76 381.33 311.45 382 311.41 C382.67 311.37 383.33 311.48 384 311.46 C384.67 311.44 385.33 311.37 386 311.31 C386.67 311.26 387.33 311.13 388 311.14 C388.67 311.15 389.33 311.36 390 311.38 C390.67 311.39 391.33 311.22 392 311.21 C392.67 311.21 393.33 311.34 394 311.34 C394.67 311.34 395.33 311.21 396 311.21 C396.67 311.2 397.33 311.35 398 311.31 C398.67 311.27 399.32 311.06 400 310.95 C400.68 310.85 401.39 310.73 402.08 310.68 C402.78 310.63 403.47 310.57 404.17 310.64 C404.86 310.7 405.56 311.07 406.25 311.05 C406.94 311.04 407.64 310.59 408.33 310.57 C409.03 310.54 409.72 310.87 410.42 310.92 C411.11 310.96 411.81 310.94 412.5 310.85 C413.19 310.75 413.89 310.35 414.58 310.36 C415.28 310.36 415.97 310.91 416.67 310.89 C417.36 310.88 418.06 310.25 418.75 310.25 C419.44 310.25 420.14 310.78 420.83 310.88 C421.53 310.97 422.22 310.92 422.92 310.81 C423.61 310.71 424.3 310.32 425 310.27 C425.7 310.23 426.43 310.52 427.14 310.54 C427.86 310.56 428.57 310.53 429.29 310.4 C430 310.27 430.71 309.83 431.43 309.77 C432.14 309.72 432.86 310.11 433.57 310.06 C434.29 310.02 435 309.5 435.71 309.48 C436.43 309.47 437.14 309.95 437.86 309.97 C438.57 310 439.31 309.47 440 309.65 C440.69 309.83 441.33 310.75 442 311.05 C442.67 311.35 443.33 311.18 444 311.48 C444.67 311.78 445.29 312.21 446 312.85 C446.71 313.5 447.5 314.56 448.25 315.35 C449 316.13 449.75 316.89 450.5 317.59 C451.25 318.28 452 318.71 452.75 319.5 C453.5 320.28 454.26 321.73 455 322.31 C455.74 322.89 456.47 322.82 457.2 322.98 C457.93 323.13 458.67 323.1 459.4 323.24 C460.13 323.38 460.83 323.53 461.6 323.82 C462.37 324.1 463.22 324.69 464.03 324.97 C464.84 325.25 465.66 325.25 466.47 325.49 C467.28 325.74 468.02 326.36 468.9 326.43 C469.78 326.51 470.8 326.1 471.75 325.94 C472.7 325.79 473.53 325.89 474.6 325.52 C475.68 325.14 477.12 325.04 478.2 323.72 C479.28 322.4 480.37 320.54 481.1 317.6 C481.83 314.66 482.23 310.43 482.6 306.1 C482.97 301.77 483.07 299.28 483.3 291.6 C483.53 283.92 483.72 268.6 484 260 C484.28 251.4 484.58 245.83 485 240 C485.42 234.17 486.08 230.67 486.5 225 C486.92 219.33 487.33 209.17 487.5 206" fill="none" stroke="#aa5290" stroke-width="1.0" stroke-linejoin="round" stroke-linecap="round"/>
<path d="M488.3 206 V263.5 M486.2 206 V312 M484.6 250 V305 M490 206 V238" stroke="#aa5290" stroke-width="1.5"/>
<path d="M376 312.11 C376.33 312.02 377.33 311.64 378 311.58 C378.67 311.52 379.33 311.72 380 311.74 C380.67 311.75 381.33 311.61 382 311.65 C382.67 311.7 383.33 311.98 384 312.02 C384.67 312.07 385.33 311.93 386 311.93 C386.67 311.94 387.33 312.16 388 312.06 C388.67 311.97 389.33 311.45 390 311.38 C390.67 311.3 391.33 311.63 392 311.6 C392.67 311.58 393.33 311.29 394 311.25 C394.67 311.21 395.33 311.31 396 311.36 C396.67 311.41 397.33 311.59 398 311.55 C398.67 311.51 399.32 311.18 400 311.12 C400.68 311.06 401.39 311.12 402.08 311.18 C402.78 311.23 403.47 311.43 404.17 311.45 C404.86 311.47 405.56 311.37 406.25 311.29 C406.94 311.2 407.64 310.96 408.33 310.94 C409.03 310.92 409.72 311.1 410.42 311.15 C411.11 311.21 411.81 311.35 412.5 311.25 C413.19 311.14 413.89 310.55 414.58 310.52 C415.28 310.49 415.97 311.01 416.67 311.08 C417.36 311.14 418.06 311 418.75 310.91 C419.44 310.82 420.14 310.64 420.83 310.54 C421.53 310.44 422.22 310.25 422.92 310.31 C423.61 310.36 424.3 310.88 425 310.87 C425.7 310.85 426.43 310.39 427.14 310.23 C427.86 310.06 428.57 309.97 429.29 309.89 C430 309.81 430.71 309.7 431.43 309.75 C432.14 309.8 432.86 310.19 433.57 310.21 C434.29 310.23 435 309.92 435.71 309.87 C436.43 309.82 437.14 309.92 437.86 309.89 C438.57 309.86 439.31 309.55 440 309.68 C440.69 309.82 441.33 310.27 442 310.7 C442.67 311.12 443.33 311.84 444 312.21 C444.67 312.58 445.28 312.38 446 312.9 C446.72 313.43 447.56 314.54 448.33 315.37 C449.11 316.21 449.89 317.14 450.67 317.93 C451.44 318.72 452.13 319.13 453 320.09 C453.87 321.05 454.94 323.07 455.9 323.69 C456.86 324.31 457.8 323.72 458.75 323.81 C459.7 323.91 460.76 324.52 461.6 324.26 C462.44 324.01 463.07 322.83 463.8 322.29 C464.53 321.74 465.15 322.48 466 320.98 C466.85 319.48 468.18 316.26 468.9 313.3 C469.62 310.34 469.98 310.42 470.3 303.2 C470.62 295.98 470.52 280.53 470.8 270 C471.08 259.47 471.63 250.67 472 240 C472.37 229.33 472.83 211.67 473 206" fill="none" stroke="#6cc8d6" stroke-width="1.0" stroke-linejoin="round" stroke-linecap="round"/>
<path d="M472.2 250 V305 M474 206 V300 M475.8 206 V296 M477.6 206 V286 M479 206 V262" stroke="#6cc8d6" stroke-width="1.4" stroke-opacity="0.85"/>
<path d="M372 310.68 C372.33 310.75 373.33 311.13 374 311.14 C374.67 311.15 375.33 310.78 376 310.75 C376.67 310.72 377.33 310.91 378 310.97 C378.67 311.04 379.33 311.08 380 311.12 C380.67 311.16 381.33 311.23 382 311.21 C382.67 311.18 383.33 311 384 310.97 C384.67 310.93 385.33 311.05 386 311 C386.67 310.95 387.33 310.67 388 310.66 C388.67 310.66 389.33 310.91 390 310.95 C390.67 310.99 391.33 310.86 392 310.91 C392.67 310.96 393.33 311.23 394 311.25 C394.67 311.27 395.33 311.04 396 311.03 C396.67 311.02 397.33 311.19 398 311.18 C398.67 311.17 399.32 311.04 400 310.95 C400.68 310.87 401.39 310.67 402.08 310.69 C402.78 310.71 403.47 311.03 404.17 311.08 C404.86 311.13 405.56 311.06 406.25 310.97 C406.94 310.89 407.64 310.69 408.33 310.58 C409.03 310.47 409.72 310.31 410.42 310.3 C411.11 310.29 411.81 310.49 412.5 310.51 C413.19 310.53 413.89 310.41 414.58 310.41 C415.28 310.42 415.97 310.54 416.67 310.52 C417.36 310.51 418.06 310.38 418.75 310.32 C419.44 310.26 420.14 310.2 420.83 310.17 C421.53 310.14 422.22 310.18 422.92 310.14 C423.61 310.09 424.3 310 425 309.91 C425.7 309.83 426.43 309.67 427.14 309.61 C427.86 309.55 428.57 309.47 429.29 309.55 C430 309.63 430.71 310.03 431.43 310.1 C432.14 310.16 432.86 310.05 433.57 309.95 C434.29 309.85 435 309.52 435.71 309.5 C436.43 309.48 437.14 309.84 437.86 309.84 C438.57 309.85 439.31 309.47 440 309.52 C440.69 309.56 441.33 309.78 442 310.12 C442.67 310.46 443.33 311.19 444 311.55 C444.67 311.91 445.27 311.58 446 312.26 C446.73 312.93 447.57 314.56 448.35 315.6 C449.13 316.65 449.68 317.47 450.7 318.53 C451.72 319.58 453.63 320.99 454.5 321.92 C455.37 322.84 455.43 324.82 455.9 324.1 C456.37 323.38 456.82 321.8 457.3 317.6 C457.78 313.4 458.43 305.63 458.8 298.9 C459.17 292.17 459.25 285.35 459.5 277.2 C459.75 269.05 460.05 261.87 460.3 250 C460.55 238.13 460.88 213.33 461 206" fill="none" stroke="#8c8c8c" stroke-width="1.0" stroke-linejoin="round" stroke-linecap="round"/>
<path d="M461.6 206 V245.8" stroke="#8c8c8c" stroke-width="1.6"/>
<path d="M341.5 304.49 C342.15 305.55 344.37 309.15 345.4 310.85 C346.43 312.55 346.93 313.61 347.7 314.68 C348.47 315.76 349.23 317.31 350 317.31 C350.77 317.31 351.53 315.6 352.3 314.67 C353.07 313.74 353.87 312.08 354.6 311.73 C355.33 311.39 355.98 312.36 356.67 312.61 C357.36 312.86 358.04 312.98 358.73 313.24 C359.42 313.51 360.03 314.26 360.8 314.19 C361.57 314.12 362.51 313.25 363.37 312.82 C364.22 312.38 365.08 312.15 365.93 311.59 C366.79 311.02 367.64 309.68 368.5 309.43 C369.36 309.18 370.21 309.8 371.07 310.09 C371.92 310.37 372.78 310.75 373.63 311.15 C374.49 311.56 375.35 312.33 376.2 312.53 C377.05 312.72 377.89 312.37 378.73 312.32 C379.58 312.28 380.42 312.07 381.27 312.25 C382.11 312.44 382.99 313.51 383.8 313.41 C384.61 313.31 385.37 312.29 386.15 311.64 C386.93 310.99 387.77 309.81 388.5 309.53 C389.23 309.26 389.86 309.82 390.53 309.98 C391.21 310.15 391.89 310.17 392.57 310.51 C393.24 310.86 393.88 311.84 394.6 312.05 C395.32 312.26 396.13 311.6 396.9 311.78 C397.67 311.96 398.43 313.04 399.2 313.15 C399.97 313.26 400.73 312.95 401.5 312.46 C402.27 311.98 402.97 310.61 403.8 310.24 C404.63 309.88 405.6 310.31 406.5 310.26 C407.4 310.22 408.32 310.07 409.2 309.97 C410.08 309.88 410.91 310.02 411.77 309.7 C412.62 309.38 413.48 308.42 414.33 308.03 C415.19 307.63 416.09 307.77 416.9 307.31 C417.71 306.85 418.43 305.98 419.2 305.26 C419.97 304.54 420.73 303.59 421.5 302.99 C422.27 302.4 422.78 301.39 423.8 301.71 C424.82 302.02 426.62 304.17 427.6 304.88 C428.58 305.59 428.98 305.62 429.67 305.99 C430.36 306.36 431.04 306.5 431.73 307.08 C432.42 307.66 433.07 308.74 433.8 309.46 C434.53 310.17 435.33 310.76 436.1 311.38 C436.87 312.01 437.38 313.55 438.4 313.18 C439.42 312.82 441.22 310.63 442.2 309.2 C443.18 307.77 443.7 306.32 444.3 304.6 C444.9 302.88 445.43 302.27 445.8 298.9 C446.17 295.53 446.22 289.55 446.5 284.4 C446.78 279.25 447.17 275.4 447.5 268 C447.83 260.6 448.17 250.33 448.5 240 C448.83 229.67 449.33 211.67 449.5 206" fill="none" stroke="#843040" stroke-width="1.1" stroke-linejoin="round" stroke-linecap="round"/>
<path d="M450.8 210 V276.8 M448.7 222 V280 M447 262 V282" stroke="#843040" stroke-width="1.5"/>
<path d="M341.5 314.37 C341.89 314.11 343.06 313.42 343.83 312.79 C344.61 312.16 345.39 311.21 346.17 310.58 C346.94 309.96 347.68 309.21 348.5 309.04 C349.32 308.86 350.21 309.34 351.07 309.54 C351.92 309.74 352.78 309.95 353.63 310.24 C354.49 310.54 355.35 311.01 356.2 311.28 C357.05 311.56 357.89 311.62 358.73 311.88 C359.58 312.14 360.42 312.48 361.27 312.84 C362.11 313.2 363.03 314.17 363.8 314.04 C364.57 313.91 365.18 312.51 365.87 312.07 C366.56 311.63 367.24 311.8 367.93 311.39 C368.62 310.99 369.31 309.65 370 309.64 C370.69 309.62 371.38 310.86 372.07 311.3 C372.76 311.73 373.44 312 374.13 312.24 C374.82 312.47 375.43 312.48 376.2 312.71 C376.97 312.94 377.89 313.44 378.73 313.61 C379.58 313.79 380.42 313.79 381.27 313.75 C382.11 313.71 382.95 313.29 383.8 313.37 C384.65 313.46 385.51 313.96 386.37 314.24 C387.22 314.52 388.08 314.8 388.93 315.07 C389.79 315.33 390.64 315.74 391.5 315.82 C392.36 315.91 393.21 315.52 394.07 315.57 C394.92 315.63 395.78 315.88 396.63 316.15 C397.49 316.42 398.42 316.91 399.2 317.18 C399.98 317.44 400.62 317.73 401.32 317.74 C402.03 317.75 402.74 317.26 403.45 317.24 C404.16 317.22 404.87 317.38 405.57 317.61 C406.28 317.85 407.01 318.64 407.7 318.65 C408.39 318.66 409.06 317.92 409.73 317.68 C410.41 317.45 411.09 317.37 411.77 317.22 C412.44 317.07 412.81 317.89 413.8 316.8 C414.79 315.71 416.67 315.05 417.7 310.7 C418.73 306.35 419.23 297.62 420 290.7 C420.77 283.78 421.6 273.9 422.3 269.2 C423 264.5 423.57 261.47 424.2 262.5 C424.83 263.53 425.53 270.7 426.1 275.4 C426.67 280.1 427.08 284.82 427.6 290.7 C428.12 296.58 428.55 305.7 429.2 310.7 C429.85 315.7 430.87 320.7 431.5 320.7 C432.13 320.7 432.58 315.7 433 310.7 C433.42 305.7 433.73 299.15 434 290.7 C434.27 282.25 434.43 274.12 434.6 260 C434.77 245.88 434.93 215 435 206" fill="none" stroke="#2a7a5c" stroke-width="1.0" stroke-linejoin="round" stroke-linecap="round"/>
<path d="M341.7 315.77 C342.1 315.31 343.3 313.86 344.1 313.03 C344.9 312.2 345.7 310.95 346.5 310.76 C347.3 310.57 348.1 311.63 348.9 311.9 C349.7 312.18 350.42 312.09 351.3 312.41 C352.18 312.73 353.23 313.37 354.2 313.81 C355.17 314.25 356.24 314.86 357.1 315.06 C357.96 315.25 358.59 315.16 359.33 314.98 C360.08 314.8 360.82 314.22 361.57 314.01 C362.31 313.79 362.94 313.97 363.8 313.7 C364.66 313.43 365.73 312.79 366.7 312.37 C367.67 311.96 368.47 310.75 369.6 311.23 C370.73 311.71 372.45 314.34 373.5 315.24 C374.55 316.14 375.1 316 375.9 316.64 C376.7 317.29 377.53 318.51 378.3 319.09 C379.07 319.67 379.79 319.68 380.53 320.12 C381.28 320.56 382.02 321.25 382.77 321.73 C383.51 322.21 384.27 322.57 385 323 C385.73 323.44 386.44 323.7 387.17 324.35 C387.89 325 388.61 326.21 389.33 326.9 C390.06 327.59 390.79 328.02 391.5 328.49 C392.21 328.95 392.88 329.22 393.57 329.69 C394.26 330.17 394.94 330.87 395.63 331.34 C396.32 331.81 397.02 332.13 397.7 332.5 C398.38 332.87 399.06 333.32 399.73 333.57 C400.41 333.83 401.09 333.91 401.77 334.03 C402.44 334.16 403.03 334.31 403.8 334.33 C404.57 334.34 405.53 334.16 406.4 334.11 C407.27 334.05 408.02 334.32 409 334 C409.98 333.69 410.98 334.3 412.3 332.2 C413.62 330.1 415.75 325.75 416.9 321.4 C418.05 317.05 418.57 312.5 419.2 306.1 C419.83 299.7 420.3 292.35 420.7 283 C421.1 273.65 421.33 262.83 421.6 250 C421.87 237.17 422.18 213.33 422.3 206" fill="none" stroke="#a2a258" stroke-width="1.0" stroke-linejoin="round" stroke-linecap="round"/>
</g>
<line x1="424" y1="206.6" x2="424" y2="350.3" stroke="#444" stroke-width="1.0"/>
<path d="M424.0 206.6 V350.3" stroke="#fff" stroke-width="1.4" stroke-dasharray="0 3.3 1.6 0"/>
<line x1="443" y1="206.6" x2="443" y2="350.3" stroke="#444" stroke-width="1.0"/>
<path d="M443.0 206.6 V350.3" stroke="#fff" stroke-width="1.4" stroke-dasharray="0 3.3 1.6 0"/>
<text x="379.3" y="219.6" font-size="8.5" fill="#9c4e8c" text-anchor="start" font-weight="bold" stroke="#9c4e8c" stroke-width="0.2">h*=0.2</text>
<line x1="407" y1="216.5" x2="483" y2="218.2" stroke="#8c6c88" stroke-width="0.8"/>
<text x="392.9" y="236.8" font-size="8.5" fill="#72c2d6" text-anchor="start" font-weight="bold" stroke="#72c2d6" stroke-width="0.2">0.4</text>
<line x1="407.5" y1="233.5" x2="469.7" y2="241.4" stroke="#9cbcc4" stroke-width="0.8"/>
<text x="390.8" y="254.6" font-size="8.5" fill="#6e6e6e" text-anchor="start" font-weight="bold" stroke="#6e6e6e" stroke-width="0.2">0.7</text>
<line x1="405.1" y1="250.7" x2="457.5" y2="264.6" stroke="#7c7c7c" stroke-width="0.8"/>
<text x="384.3" y="269.9" font-size="8.5" fill="#7e2a3a" text-anchor="start" font-weight="bold" stroke="#7e2a3a" stroke-width="0.2">1.3</text>
<line x1="397.9" y1="267.6" x2="444.2" y2="290" stroke="#624248" stroke-width="0.8"/>
<text x="375.7" y="283.5" font-size="8.5" fill="#226e52" text-anchor="start" font-weight="bold" stroke="#226e52" stroke-width="0.2">2.6</text>
<line x1="384.6" y1="285.4" x2="402.3" y2="310" stroke="#4c6c62" stroke-width="0.8"/>
<text x="353.8" y="295" font-size="8.5" fill="#94944a" text-anchor="start" font-weight="bold" stroke="#94944a" stroke-width="0.2">5.2</text>
<line x1="366.2" y1="297" x2="370.8" y2="308.5" stroke="#8c8c6c" stroke-width="0.8"/>
<text x="345.4" y="340.1" font-size="6.8" fill="#111" text-anchor="start" font-weight="bold" stroke="#111" stroke-width="0.2">Particles meet</text>
<text x="345.4" y="347.8" font-size="6.8" fill="#111" text-anchor="start" font-weight="bold" stroke="#111" stroke-width="0.2">in middle</text>
<path d="M393 341.2 H420.8 M420.8 341.2 l-3.3 -2.3 M420.8 341.2 l-3.3 2.3" stroke="#222" stroke-width="0.8" fill="none"/>
<text x="458" y="339.5" font-size="6.8" fill="#111" text-anchor="start" font-weight="bold" stroke="#111" stroke-width="0.2">Particles reach</text>
<text x="458" y="347.7" font-size="6.8" fill="#111" text-anchor="start" font-weight="bold" stroke="#111" stroke-width="0.2">opposite surface</text>
<path d="M445.5 341.2 h10 M445.5 341.2 l3.3 -2.3 M445.5 341.2 l3.3 2.3" stroke="#222" stroke-width="0.8" fill="none"/>
<g clip-path="url(#ce)">
<path d="M68.4 485.5 C70.17 484.33 75.43 481.08 79 478.5 C82.57 475.92 85.58 472.55 89.8 470 C94.02 467.45 98.18 466.17 104.3 463.2 C110.42 460.23 119.1 455.52 126.5 452.2 C133.9 448.88 142.92 445.45 148.7 443.3 C154.48 441.15 158.4 440.48 161.2 439.3 C164 438.12 164.33 437.42 165.5 436.2 C166.67 434.98 167.48 433.7 168.2 432 C168.92 430.3 169.4 427.92 169.8 426 C170.2 424.08 170.37 422.03 170.6 420.5 C170.83 418.97 171.1 417.42 171.2 416.8" fill="none" stroke="#a2a258" stroke-width="1.0" stroke-linejoin="round" stroke-linecap="round"/>
<path d="M68.4 496.3 C69.67 495.33 73.42 492.3 76 490.5 C78.58 488.7 79.6 488.72 83.9 485.5 C88.2 482.28 94.7 475.65 101.8 471.2 C108.9 466.75 118.68 462.9 126.5 458.8 C134.32 454.7 142.92 449.7 148.7 446.6 C154.48 443.5 158.23 442.13 161.2 440.2 C164.17 438.27 165.1 436.62 166.5 435 C167.9 433.38 168.77 432.17 169.6 430.5 C170.43 428.83 170.97 426.75 171.5 425 C172.03 423.25 172.42 421.4 172.8 420 C173.18 418.6 173.63 417.17 173.8 416.6" fill="none" stroke="#2a7a5c" stroke-width="1.0" stroke-linejoin="round" stroke-linecap="round"/>
<path d="M69 502.2 L76.7 500.7 L79.4 497.6 L83.9 492.2 L87.4 491.9 L91.5 489.4 L95.8 486.2 L105 479 L120 467.3 L139.2 456.4 L158.5 443.5 L165 438.2 L170.4 432.6 L177.7 423.8 L181.5 418.7" fill="none" stroke="#843040" stroke-width="1.0" stroke-linejoin="round" stroke-linecap="round"/>
<path d="M69 511.2 L76.7 509.7 L79.4 506.6 L83.9 501.2 L87.4 500.9 L91.5 498.4 L95.8 495.2 L110 484.8 L120 477.5 L130 470.4 L139.2 463.2 L158.5 449.5 L177.7 433.4 L187.3 423.8 L190.2 419.9 L191.8 418.4" fill="none" stroke="#8c8c8c" stroke-width="1.0" stroke-linejoin="round" stroke-linecap="round"/>
<path d="M69 520.1 L76.7 518.6 L79.4 515.5 L83.9 510.1 L87.4 509.8 L91.5 507.3 L95.8 504.1 L105 497 L120 485.2 L130 477.5 L139.2 469.9 L158.5 454.8 L170 445.6 L177.7 440.6 L196.9 427.6 L202.7 423.7 L206.5 425.5 L208.5 422.5 L210.4 419.5" fill="none" stroke="#6cc8d6" stroke-width="1.0" stroke-linejoin="round" stroke-linecap="round"/>
<path d="M69 529 L76.7 527.5 L79.4 524.4 L83.9 519 L87.4 518.7 L91.5 516.2 L95.8 513 L105 505.8 L120 494 L135.4 481.7 L158.5 463.5 L170 454.6 L177.7 449.8 L196.9 437.2 L210.4 426.6 L212.8 424.3 L214.2 421.6 L215.2 417.8" fill="none" stroke="#aa5290" stroke-width="1.0" stroke-linejoin="round" stroke-linecap="round"/>
</g>
<text x="95.5" y="427.4" font-size="8.5" fill="#94944a" text-anchor="start" font-weight="bold" stroke="#94944a" stroke-width="0.2">h*=7.3</text>
<line x1="118.8" y1="430" x2="133.2" y2="446.6" stroke="#8c8c6c" stroke-width="0.8"/>
<text x="76.6" y="444.7" font-size="8.5" fill="#226e52" text-anchor="start" font-weight="bold" stroke="#226e52" stroke-width="0.2">3.7</text>
<line x1="85.5" y1="446.6" x2="104.3" y2="465.5" stroke="#4c6c62" stroke-width="0.8"/>
<text x="191.9" y="465.9" font-size="8.5" fill="#7e2a3a" text-anchor="start" font-weight="bold" stroke="#7e2a3a" stroke-width="0.2">1.8</text>
<line x1="190" y1="460.8" x2="161.3" y2="442.8" stroke="#555" stroke-width="0.8"/>
<text x="173.7" y="485.1" font-size="8.5" fill="#6e6e6e" text-anchor="start" font-weight="bold" stroke="#6e6e6e" stroke-width="0.2">1.1</text>
<line x1="171.7" y1="480" x2="139.2" y2="463.2" stroke="#7c7c7c" stroke-width="0.8"/>
<text x="160.2" y="503.4" font-size="8.5" fill="#72c2d6" text-anchor="start" font-weight="bold" stroke="#72c2d6" stroke-width="0.2">0.6</text>
<line x1="158.3" y1="498.5" x2="122" y2="485.4" stroke="#9cbcc4" stroke-width="0.8"/>
<text x="140.3" y="521.7" font-size="8.5" fill="#9c4e8c" text-anchor="start" font-weight="bold" stroke="#9c4e8c" stroke-width="0.2">0.3</text>
<line x1="138.5" y1="518" x2="105.5" y2="508.3" stroke="#8c6c88" stroke-width="0.8"/>
<g clip-path="url(#cf)">
<path d="M341 485.5 C342.67 484.33 347.62 480.98 351 478.5 C354.38 476.02 356.85 473.27 361.3 470.6 C365.75 467.93 370.98 466.23 377.7 462.5 C384.42 458.77 396.22 451.32 401.6 448.2 C406.98 445.08 407.22 445.6 410 443.8 C412.78 442 416.32 439.05 418.3 437.4 C420.28 435.75 420.98 435.3 421.9 433.9 C422.82 432.5 423.2 430.6 423.8 429 C424.4 427.4 424.93 426.28 425.5 424.3 C426.07 422.32 426.92 418.3 427.2 417.1" fill="none" stroke="#a2a258" stroke-width="1.0" stroke-linejoin="round" stroke-linecap="round"/>
<path d="M341 496.3 C342.98 494.9 347.33 492.2 352.9 487.9 C358.47 483.6 366.28 476.12 374.4 470.5 C382.52 464.88 395.67 457.95 401.6 454.2 C407.53 450.45 407.22 450.45 410 448 C412.78 445.55 416.12 441.75 418.3 439.5 C420.48 437.25 421.45 436.38 423.1 434.5 C424.75 432.62 426.52 430.27 428.2 428.2 C429.88 426.13 431.68 423.95 433.2 422.1 C434.72 420.25 436.62 417.93 437.3 417.1" fill="none" stroke="#2a7a5c" stroke-width="1.0" stroke-linejoin="round" stroke-linecap="round"/>
<path d="M341.6 502.2 L348.7 501 L352.9 496.8 L356.5 492.7 L360.1 492.1 L363.6 489.7 L385 473 L401.6 461.3 L430.2 437.3 L442.3 427.2 L450.4 419.1 L452.4 418.1" fill="none" stroke="#843040" stroke-width="1.0" stroke-linejoin="round" stroke-linecap="round"/>
<path d="M341.6 511.2 L348.7 510 L352.9 505.8 L356.5 501.7 L360.1 501.1 L363.6 498.7 L385 481.3 L401.6 469.7 L430.2 444.3 L450.4 429.2 L463.5 419.1" fill="none" stroke="#8c8c8c" stroke-width="1.0" stroke-linejoin="round" stroke-linecap="round"/>
<path d="M341.6 520.5 L348.7 519.3 L352.9 515.1 L356.5 511 L360.1 510.4 L363.6 508 L385 490.3 L401.6 479.2 L430.2 453.4 L450.4 438.3 L470.6 424.1 L474.6 423.1 L476.5 421.5 L478.7 418.1" fill="none" stroke="#6cc8d6" stroke-width="1.0" stroke-linejoin="round" stroke-linecap="round"/>
<path d="M341.6 529.1 L348.7 527.9 L352.9 523.7 L356.5 519.6 L360.1 519 L363.6 516.6 L385 499.8 L401.6 486.4 L430.2 463.5 L450.4 447.4 L470.6 433.2 L486.8 423.1 L488.5 421 L489.8 418.1" fill="none" stroke="#aa5290" stroke-width="1.0" stroke-linejoin="round" stroke-linecap="round"/>
</g>
<text x="351.5" y="423" font-size="8.5" fill="#94944a" text-anchor="start" font-weight="bold" stroke="#94944a" stroke-width="0.2">h*=5.2</text>
<line x1="373" y1="425.5" x2="393.2" y2="445.8" stroke="#8c8c6c" stroke-width="0.8"/>
<text x="340.7" y="446" font-size="8.5" fill="#226e52" text-anchor="start" font-weight="bold" stroke="#226e52" stroke-width="0.2">2.6</text>
<line x1="349.1" y1="448.2" x2="367" y2="472" stroke="#4c6c62" stroke-width="0.8"/>
<text x="471.6" y="470.2" font-size="8.5" fill="#7e2a3a" text-anchor="start" font-weight="bold" stroke="#7e2a3a" stroke-width="0.2">1.3</text>
<line x1="470.6" y1="463.5" x2="443.3" y2="428.2" stroke="#624248" stroke-width="0.8"/>
<text x="449.4" y="489.4" font-size="8.5" fill="#6e6e6e" text-anchor="start" font-weight="bold" stroke="#6e6e6e" stroke-width="0.2">0.7</text>
<line x1="447.4" y1="481.7" x2="419.1" y2="457.5" stroke="#7c7c7c" stroke-width="0.8"/>
<text x="419.1" y="506.9" font-size="8.5" fill="#72c2d6" text-anchor="start" font-weight="bold" stroke="#72c2d6" stroke-width="0.2">0.4</text>
<line x1="418.1" y1="501.9" x2="394.4" y2="487.6" stroke="#9cbcc4" stroke-width="0.8"/>
<text x="396.8" y="531.9" font-size="8.5" fill="#9c4e8c" text-anchor="start" font-weight="bold" stroke="#9c4e8c" stroke-width="0.2">0.2</text>
<line x1="394.4" y1="527.4" x2="368.2" y2="517.4" stroke="#8c6c88" stroke-width="0.8"/>
</svg>
</body></html>
